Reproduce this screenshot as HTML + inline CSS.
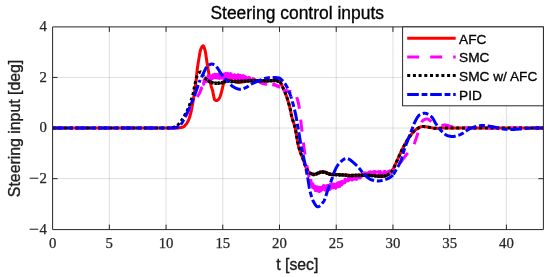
<!DOCTYPE html>
<html><head><meta charset="utf-8"><title>Steering control inputs</title>
<style>html,body{margin:0;padding:0;background:#fff;width:550px;height:277px;overflow:hidden}svg{display:block}</style>
</head><body>
<svg width="550" height="277" viewBox="0 0 550 277">
<rect width="550" height="277" fill="#fff"/>
<path d="M109.33,26.9V229.6M166.05,26.9V229.6M222.78,26.9V229.6M279.50,26.9V229.6M336.23,26.9V229.6M392.95,26.9V229.6M449.68,26.9V229.6M506.40,26.9V229.6" stroke="#262626" stroke-opacity="0.15" stroke-width="1" fill="none"/>
<path d="M52.6,178.67H543.4M52.6,128.05H543.4M52.6,77.43H543.4" stroke="#262626" stroke-opacity="0.15" stroke-width="1" fill="none"/>
<g fill="none" stroke-width="3" stroke-linejoin="round" clip-path="url(#c)">
<clipPath id="c"><rect x="52.6" y="26.9" width="490.79999999999995" height="202.7"/></clipPath>
<path d="M52.60,128.05 L52.83,128.05 L53.05,128.05 L53.28,128.05 L53.51,128.05 L53.73,128.05 L53.96,128.05 L54.19,128.05 L54.42,128.05 L54.64,128.05 L54.87,128.05 L55.10,128.05 L55.32,128.05 L55.55,128.05 L55.78,128.05 L56.00,128.05 L56.23,128.05 L56.46,128.05 L56.68,128.05 L56.91,128.05 L57.14,128.05 L57.36,128.05 L57.59,128.05 L57.82,128.05 L58.05,128.05 L58.27,128.05 L58.50,128.05 L58.73,128.05 L58.95,128.05 L59.18,128.05 L59.41,128.05 L59.63,128.05 L59.86,128.05 L60.09,128.05 L60.31,128.05 L60.54,128.05 L60.77,128.05 L61.00,128.05 L61.22,128.05 L61.45,128.05 L61.68,128.05 L61.90,128.05 L62.13,128.05 L62.36,128.05 L62.58,128.05 L62.81,128.05 L63.04,128.05 L63.26,128.05 L63.49,128.05 L63.72,128.05 L63.95,128.05 L64.17,128.05 L64.40,128.05 L64.63,128.05 L64.85,128.05 L65.08,128.05 L65.31,128.05 L65.53,128.05 L65.76,128.05 L65.99,128.05 L66.21,128.05 L66.44,128.05 L66.67,128.05 L66.89,128.05 L67.12,128.05 L67.35,128.05 L67.58,128.05 L67.80,128.05 L68.03,128.05 L68.26,128.05 L68.48,128.05 L68.71,128.05 L68.94,128.05 L69.16,128.05 L69.39,128.05 L69.62,128.05 L69.84,128.05 L70.07,128.05 L70.30,128.05 L70.53,128.05 L70.75,128.05 L70.98,128.05 L71.21,128.05 L71.43,128.05 L71.66,128.05 L71.89,128.05 L72.11,128.05 L72.34,128.05 L72.57,128.05 L72.79,128.05 L73.02,128.05 L73.25,128.05 L73.47,128.05 L73.70,128.05 L73.93,128.05 L74.16,128.05 L74.38,128.05 L74.61,128.05 L74.84,128.05 L75.06,128.05 L75.29,128.05 L75.52,128.05 L75.74,128.05 L75.97,128.05 L76.20,128.05 L76.42,128.05 L76.65,128.05 L76.88,128.05 L77.11,128.05 L77.33,128.05 L77.56,128.05 L77.79,128.05 L78.01,128.05 L78.24,128.05 L78.47,128.05 L78.69,128.05 L78.92,128.05 L79.15,128.05 L79.37,128.05 L79.60,128.05 L79.83,128.05 L80.05,128.05 L80.28,128.05 L80.51,128.05 L80.74,128.05 L80.96,128.05 L81.19,128.05 L81.42,128.05 L81.64,128.05 L81.87,128.05 L82.10,128.05 L82.32,128.05 L82.55,128.05 L82.78,128.05 L83.00,128.05 L83.23,128.05 L83.46,128.05 L83.69,128.05 L83.91,128.05 L84.14,128.05 L84.37,128.05 L84.59,128.05 L84.82,128.05 L85.05,128.05 L85.27,128.05 L85.50,128.05 L85.73,128.05 L85.95,128.05 L86.18,128.05 L86.41,128.05 L86.64,128.05 L86.86,128.05 L87.09,128.05 L87.32,128.05 L87.54,128.05 L87.77,128.05 L88.00,128.05 L88.22,128.05 L88.45,128.05 L88.68,128.05 L88.90,128.05 L89.13,128.05 L89.36,128.05 L89.58,128.05 L89.81,128.05 L90.04,128.05 L90.27,128.05 L90.49,128.05 L90.72,128.05 L90.95,128.05 L91.17,128.05 L91.40,128.05 L91.63,128.05 L91.85,128.05 L92.08,128.05 L92.31,128.05 L92.53,128.05 L92.76,128.05 L92.99,128.05 L93.22,128.05 L93.44,128.05 L93.67,128.05 L93.90,128.05 L94.12,128.05 L94.35,128.05 L94.58,128.05 L94.80,128.05 L95.03,128.05 L95.26,128.05 L95.48,128.05 L95.71,128.05 L95.94,128.05 L96.16,128.05 L96.39,128.05 L96.62,128.05 L96.85,128.05 L97.07,128.05 L97.30,128.05 L97.53,128.05 L97.75,128.05 L97.98,128.05 L98.21,128.05 L98.43,128.05 L98.66,128.05 L98.89,128.05 L99.11,128.05 L99.34,128.05 L99.57,128.05 L99.80,128.05 L100.02,128.05 L100.25,128.05 L100.48,128.05 L100.70,128.05 L100.93,128.05 L101.16,128.05 L101.38,128.05 L101.61,128.05 L101.84,128.05 L102.06,128.05 L102.29,128.05 L102.52,128.05 L102.74,128.05 L102.97,128.05 L103.20,128.05 L103.43,128.05 L103.65,128.05 L103.88,128.05 L104.11,128.05 L104.33,128.05 L104.56,128.05 L104.79,128.05 L105.01,128.05 L105.24,128.05 L105.47,128.05 L105.69,128.05 L105.92,128.05 L106.15,128.05 L106.38,128.05 L106.60,128.05 L106.83,128.05 L107.06,128.05 L107.28,128.05 L107.51,128.05 L107.74,128.05 L107.96,128.05 L108.19,128.05 L108.42,128.05 L108.64,128.05 L108.87,128.05 L109.10,128.05 L109.33,128.05 L109.55,128.05 L109.78,128.05 L110.01,128.05 L110.23,128.05 L110.46,128.05 L110.69,128.05 L110.91,128.05 L111.14,128.05 L111.37,128.05 L111.59,128.05 L111.82,128.05 L112.05,128.05 L112.27,128.05 L112.50,128.05 L112.73,128.05 L112.96,128.05 L113.18,128.05 L113.41,128.05 L113.64,128.05 L113.86,128.05 L114.09,128.05 L114.32,128.05 L114.54,128.05 L114.77,128.05 L115.00,128.05 L115.22,128.05 L115.45,128.05 L115.68,128.05 L115.91,128.05 L116.13,128.05 L116.36,128.05 L116.59,128.05 L116.81,128.05 L117.04,128.05 L117.27,128.05 L117.49,128.05 L117.72,128.05 L117.95,128.05 L118.17,128.05 L118.40,128.05 L118.63,128.05 L118.85,128.05 L119.08,128.05 L119.31,128.05 L119.54,128.05 L119.76,128.05 L119.99,128.05 L120.22,128.05 L120.44,128.05 L120.67,128.05 L120.90,128.05 L121.12,128.05 L121.35,128.05 L121.58,128.05 L121.80,128.05 L122.03,128.05 L122.26,128.05 L122.49,128.05 L122.71,128.05 L122.94,128.05 L123.17,128.05 L123.39,128.05 L123.62,128.05 L123.85,128.05 L124.07,128.05 L124.30,128.05 L124.53,128.05 L124.75,128.05 L124.98,128.05 L125.21,128.05 L125.43,128.05 L125.66,128.05 L125.89,128.05 L126.12,128.05 L126.34,128.05 L126.57,128.05 L126.80,128.05 L127.02,128.05 L127.25,128.05 L127.48,128.05 L127.70,128.05 L127.93,128.05 L128.16,128.05 L128.38,128.05 L128.61,128.05 L128.84,128.05 L129.07,128.05 L129.29,128.05 L129.52,128.05 L129.75,128.05 L129.97,128.05 L130.20,128.05 L130.43,128.05 L130.65,128.05 L130.88,128.05 L131.11,128.05 L131.33,128.05 L131.56,128.05 L131.79,128.05 L132.02,128.05 L132.24,128.05 L132.47,128.05 L132.70,128.05 L132.92,128.05 L133.15,128.05 L133.38,128.05 L133.60,128.05 L133.83,128.05 L134.06,128.05 L134.28,128.05 L134.51,128.05 L134.74,128.05 L134.96,128.05 L135.19,128.05 L135.42,128.05 L135.65,128.05 L135.87,128.05 L136.10,128.05 L136.33,128.05 L136.55,128.05 L136.78,128.05 L137.01,128.05 L137.23,128.05 L137.46,128.05 L137.69,128.05 L137.91,128.05 L138.14,128.05 L138.37,128.05 L138.60,128.05 L138.82,128.05 L139.05,128.05 L139.28,128.05 L139.50,128.05 L139.73,128.05 L139.96,128.05 L140.18,128.05 L140.41,128.05 L140.64,128.05 L140.86,128.05 L141.09,128.05 L141.32,128.05 L141.54,128.05 L141.77,128.05 L142.00,128.05 L142.23,128.05 L142.45,128.05 L142.68,128.05 L142.91,128.05 L143.13,128.05 L143.36,128.05 L143.59,128.05 L143.81,128.05 L144.04,128.05 L144.27,128.05 L144.49,128.05 L144.72,128.05 L144.95,128.05 L145.18,128.05 L145.40,128.05 L145.63,128.05 L145.86,128.05 L146.08,128.05 L146.31,128.05 L146.54,128.05 L146.76,128.05 L146.99,128.05 L147.22,128.05 L147.44,128.05 L147.67,128.05 L147.90,128.05 L148.12,128.05 L148.35,128.05 L148.58,128.05 L148.81,128.05 L149.03,128.05 L149.26,128.05 L149.49,128.05 L149.71,128.05 L149.94,128.05 L150.17,128.05 L150.39,128.05 L150.62,128.05 L150.85,128.05 L151.07,128.05 L151.30,128.05 L151.53,128.05 L151.76,128.05 L151.98,128.05 L152.21,128.05 L152.44,128.05 L152.66,128.05 L152.89,128.05 L153.12,128.05 L153.34,128.05 L153.57,128.05 L153.80,128.05 L154.02,128.05 L154.25,128.05 L154.48,128.05 L154.71,128.05 L154.93,128.05 L155.16,128.05 L155.39,128.05 L155.61,128.05 L155.84,128.05 L156.07,128.05 L156.29,128.05 L156.52,128.05 L156.75,128.05 L156.97,128.05 L157.20,128.05 L157.43,128.05 L157.65,128.05 L157.88,128.05 L158.11,128.05 L158.34,128.05 L158.56,128.05 L158.79,128.05 L159.02,128.05 L159.24,128.05 L159.47,128.05 L159.70,128.05 L159.92,128.05 L160.15,128.05 L160.38,128.05 L160.60,128.05 L160.83,128.05 L161.06,128.05 L161.29,128.05 L161.51,128.05 L161.74,128.05 L161.97,128.05 L162.19,128.05 L162.42,128.05 L162.65,128.05 L162.87,128.05 L163.10,128.05 L163.33,128.05 L163.55,128.05 L163.78,128.05 L164.01,128.05 L164.23,128.05 L164.46,128.05 L164.69,128.05 L164.92,128.05 L165.14,128.05 L165.37,128.05 L165.60,128.05 L165.82,128.05 L166.05,128.05 L166.28,128.05 L166.50,128.05 L166.73,128.05 L166.96,128.05 L167.18,128.05 L167.41,128.05 L167.64,128.05 L167.87,128.05 L168.09,128.05 L168.32,128.05 L168.55,128.05 L168.77,128.05 L169.00,128.05 L169.23,128.05 L169.45,128.05 L169.68,128.05 L169.91,128.05 L170.13,128.05 L170.36,128.05 L170.59,128.05 L170.81,128.05 L171.04,128.05 L171.27,128.05 L171.50,128.05 L171.72,128.05 L171.95,128.05 L172.18,128.05 L172.40,128.05 L172.63,128.05 L172.86,128.05 L173.08,128.05 L173.31,128.05 L173.54,128.05 L173.76,128.05 L173.99,128.05 L174.22,128.05 L174.45,128.05 L174.67,128.05 L174.90,128.05 L175.13,128.05 L175.35,128.05 L175.58,128.05 L175.81,128.05 L176.03,128.05 L176.26,128.05 L176.49,128.05 L176.71,128.05 L176.94,128.04 L177.17,128.03 L177.40,128.02 L177.62,128.01 L177.85,127.99 L178.08,127.97 L178.30,127.95 L178.53,127.93 L178.76,127.91 L178.98,127.88 L179.21,127.85 L179.44,127.82 L179.66,127.79 L179.89,127.75 L180.12,127.72 L180.34,127.68 L180.57,127.64 L180.80,127.60 L181.03,127.55 L181.25,127.51 L181.48,127.46 L181.71,127.41 L181.93,127.36 L182.16,127.30 L182.39,127.25 L182.61,127.19 L182.84,127.13 L183.07,127.05 L183.29,126.94 L183.52,126.81 L183.75,126.66 L183.98,126.49 L184.20,126.30 L184.43,126.09 L184.66,125.87 L184.88,125.64 L185.11,125.39 L185.34,125.14 L185.56,124.87 L185.79,124.60 L186.02,124.32 L186.24,124.03 L186.47,123.75 L186.70,123.44 L186.92,123.11 L187.15,122.75 L187.38,122.36 L187.61,121.94 L187.83,121.50 L188.06,121.04 L188.29,120.55 L188.51,120.04 L188.74,119.51 L188.97,118.97 L189.19,118.39 L189.42,117.77 L189.65,117.10 L189.87,116.37 L190.10,115.60 L190.33,114.79 L190.56,113.94 L190.78,113.06 L191.01,112.14 L191.24,111.14 L191.46,110.05 L191.69,108.91 L191.92,107.73 L192.14,106.54 L192.37,105.32 L192.60,104.07 L192.82,102.78 L193.05,101.46 L193.28,100.09 L193.50,98.69 L193.73,97.26 L193.96,95.81 L194.19,94.34 L194.41,92.84 L194.64,91.31 L194.87,89.74 L195.09,88.14 L195.32,86.48 L195.55,84.79 L195.77,83.03 L196.00,81.23 L196.23,79.25 L196.45,77.08 L196.68,74.81 L196.91,72.57 L197.14,70.45 L197.36,68.57 L197.59,66.90 L197.82,65.34 L198.04,63.85 L198.27,62.44 L198.50,61.08 L198.72,59.75 L198.95,58.45 L199.18,57.10 L199.40,55.71 L199.63,54.32 L199.86,52.99 L200.09,51.78 L200.31,50.73 L200.54,49.90 L200.77,49.31 L200.99,48.78 L201.22,48.26 L201.45,47.78 L201.67,47.33 L201.90,46.93 L202.13,46.58 L202.35,46.28 L202.58,46.05 L202.81,45.89 L203.03,45.80 L203.26,45.82 L203.49,46.00 L203.72,46.33 L203.94,46.81 L204.17,47.40 L204.40,48.07 L204.62,48.82 L204.85,49.62 L205.08,50.44 L205.30,51.31 L205.53,52.46 L205.76,53.85 L205.98,55.41 L206.21,57.05 L206.44,58.69 L206.67,60.25 L206.89,61.68 L207.12,63.09 L207.35,64.49 L207.57,65.88 L207.80,67.26 L208.03,68.64 L208.25,70.00 L208.48,71.35 L208.71,72.68 L208.93,73.99 L209.16,75.30 L209.39,76.63 L209.61,77.98 L209.84,79.32 L210.07,80.64 L210.30,81.92 L210.52,83.13 L210.75,84.27 L210.98,85.31 L211.20,86.22 L211.43,87.01 L211.66,87.71 L211.88,88.36 L212.11,89.00 L212.34,89.69 L212.56,90.46 L212.79,91.35 L213.02,92.54 L213.25,93.92 L213.47,95.15 L213.70,96.22 L213.93,97.28 L214.15,98.24 L214.38,99.00 L214.61,99.45 L214.83,99.71 L215.06,99.94 L215.29,100.14 L215.51,100.31 L215.74,100.44 L215.97,100.54 L216.19,100.58 L216.42,100.58 L216.65,100.55 L216.88,100.48 L217.10,100.39 L217.33,100.28 L217.56,100.16 L217.78,100.03 L218.01,99.88 L218.24,99.68 L218.46,99.44 L218.69,99.15 L218.92,98.81 L219.14,98.44 L219.37,98.03 L219.60,97.60 L219.83,97.14 L220.05,96.67 L220.28,96.12 L220.51,95.46 L220.73,94.71 L220.96,93.91 L221.19,93.06 L221.41,92.20 L221.64,91.35 L221.87,90.48 L222.09,89.57 L222.32,88.62 L222.55,87.66 L222.78,86.71 L223.00,85.78 L223.23,84.82 L223.46,83.81 L223.68,82.80 L223.91,81.86 L224.14,81.06 L224.36,80.47 L224.59,80.00 L224.82,79.55 L225.04,79.12 L225.27,78.72 L225.50,78.36 L225.72,78.05 L225.95,77.79 L226.18,77.59 L226.41,77.47 L226.63,77.43 L226.86,77.44 L227.09,77.46 L227.31,77.49 L227.54,77.53 L227.77,77.58 L227.99,77.64 L228.22,77.70 L228.45,77.77 L228.67,77.85 L228.90,77.93 L229.13,78.02 L229.36,78.10 L229.58,78.19 L229.81,78.30 L230.04,78.43 L230.26,78.60 L230.49,78.79 L230.72,79.00 L230.94,79.22 L231.17,79.45 L231.40,79.68 L231.62,79.91 L231.85,80.14 L232.08,80.35 L232.30,80.54 L232.53,80.71 L232.76,80.86 L232.99,80.97 L233.21,81.07 L233.44,81.16 L233.67,81.26 L233.89,81.35 L234.12,81.44 L234.35,81.53 L234.57,81.61 L234.80,81.69 L235.03,81.77 L235.25,81.85 L235.48,81.93 L235.71,82.00 L235.94,82.06 L236.16,82.13 L236.39,82.19 L236.62,82.24 L236.84,82.29 L237.07,82.34 L237.30,82.38 L237.52,82.41 L237.75,82.44 L237.98,82.46 L238.20,82.48 L238.43,82.49 L238.66,82.49 L238.88,82.49 L239.11,82.48 L239.34,82.46 L239.57,82.44 L239.79,82.42 L240.02,82.39 L240.25,82.36 L240.47,82.32 L240.70,82.28 L240.93,82.24 L241.15,82.20 L241.38,82.15 L241.61,82.11 L241.83,82.06 L242.06,82.01 L242.29,81.97 L242.52,81.92 L242.74,81.88 L242.97,81.84 L243.20,81.80 L243.42,81.76 L243.65,81.73 L243.88,81.70 L244.10,81.67 L244.33,81.64 L244.56,81.61 L244.78,81.57 L245.01,81.54 L245.24,81.50 L245.47,81.47 L245.69,81.44 L245.92,81.40 L246.15,81.37 L246.37,81.33 L246.60,81.29 L246.83,81.26 L247.05,81.22 L247.28,81.19 L247.51,81.15 L247.73,81.12 L247.96,81.08 L248.19,81.05 L248.41,81.02 L248.64,80.98 L248.87,80.95 L249.10,80.92 L249.32,80.89 L249.55,80.86 L249.78,80.82 L250.00,80.80 L250.23,80.77 L250.46,80.74 L250.68,80.71 L250.91,80.69 L251.14,80.66 L251.36,80.64 L251.59,80.62 L251.82,80.60 L252.05,80.58 L252.27,80.56 L252.50,80.54 L252.73,80.53 L252.95,80.51 L253.18,80.50 L253.41,80.49 L253.63,80.48 L253.86,80.48 L254.09,80.47 L254.31,80.47 L254.54,80.47 L254.77,80.47 L254.99,80.47 L255.22,80.48 L255.45,80.49 L255.68,80.51 L255.90,80.52 L256.13,80.54 L256.36,80.56 L256.58,80.57 L256.81,80.59 L257.04,80.61 L257.26,80.63 L257.49,80.65 L257.72,80.67 L257.94,80.68 L258.17,80.69 L258.40,80.70 L258.63,80.71 L258.85,80.72 L259.08,80.72 L259.31,80.72 L259.53,80.72 L259.76,80.72 L259.99,80.72 L260.21,80.72 L260.44,80.71 L260.67,80.71 L260.89,80.71 L261.12,80.71 L261.35,80.70 L261.57,80.70 L261.80,80.70 L262.03,80.69 L262.26,80.69 L262.48,80.69 L262.71,80.68 L262.94,80.68 L263.16,80.67 L263.39,80.67 L263.62,80.66 L263.84,80.66 L264.07,80.65 L264.30,80.65 L264.52,80.64 L264.75,80.64 L264.98,80.63 L265.21,80.62 L265.43,80.62 L265.66,80.61 L265.89,80.61 L266.11,80.60 L266.34,80.60 L266.57,80.59 L266.79,80.58 L267.02,80.58 L267.25,80.57 L267.47,80.57 L267.70,80.56 L267.93,80.55 L268.16,80.55 L268.38,80.54 L268.61,80.54 L268.84,80.53 L269.06,80.53 L269.29,80.52 L269.52,80.52 L269.74,80.51 L269.97,80.51 L270.20,80.50 L270.42,80.50 L270.65,80.50 L270.88,80.49 L271.10,80.49 L271.33,80.49 L271.56,80.48 L271.79,80.48 L272.01,80.48 L272.24,80.47 L272.47,80.47 L272.69,80.47 L272.92,80.47 L273.15,80.47 L273.37,80.47 L273.60,80.47 L273.83,80.47 L274.05,80.47 L274.28,80.47 L274.51,80.48 L274.74,80.49 L274.96,80.50 L275.19,80.51 L275.42,80.52 L275.64,80.54 L275.87,80.56 L276.10,80.58 L276.32,80.60 L276.55,80.63 L276.78,80.65 L277.00,80.68 L277.23,80.72 L277.46,80.75 L277.68,80.79 L277.91,80.83 L278.14,80.88 L278.37,80.92 L278.59,80.97 L278.82,81.02 L279.05,81.08 L279.27,81.13 L279.50,81.20 L279.73,81.28 L279.95,81.48 L280.18,81.79 L280.41,82.20 L280.63,82.68 L280.86,83.20 L281.09,83.74 L281.32,84.28 L281.54,84.79 L281.77,85.25 L282.00,85.71 L282.22,86.18 L282.45,86.65 L282.68,87.12 L282.90,87.59 L283.13,88.08 L283.36,88.56 L283.58,89.06 L283.81,89.56 L284.04,90.07 L284.26,90.59 L284.49,91.12 L284.72,91.66 L284.95,92.21 L285.17,92.77 L285.40,93.34 L285.63,93.93 L285.85,94.53 L286.08,95.15 L286.31,95.78 L286.53,96.41 L286.76,97.07 L286.99,97.73 L287.21,98.41 L287.44,99.10 L287.67,99.81 L287.90,100.53 L288.12,101.27 L288.35,102.03 L288.58,102.81 L288.80,103.61 L289.03,104.43 L289.26,105.27 L289.48,106.14 L289.71,107.02 L289.94,107.94 L290.16,108.88 L290.39,109.84 L290.62,110.87 L290.85,112.09 L291.07,113.39 L291.30,114.61 L291.53,115.63 L291.75,116.55 L291.98,117.41 L292.21,118.23 L292.43,119.00 L292.66,119.73 L292.89,120.44 L293.11,121.14 L293.34,121.83 L293.57,122.51 L293.79,123.21 L294.02,123.92 L294.25,124.66 L294.48,125.44 L294.70,126.25 L294.93,127.12 L295.16,128.05 L295.38,129.07 L295.61,130.19 L295.84,131.39 L296.06,132.66 L296.29,133.97 L296.52,135.32 L296.74,136.69 L296.97,138.05 L297.20,139.40 L297.43,140.71 L297.65,141.97 L297.88,143.16 L298.11,144.26 L298.33,145.26 L298.56,146.18 L298.79,147.04 L299.01,147.86 L299.24,148.65 L299.47,149.40 L299.69,150.12 L299.92,150.83 L300.15,151.51 L300.37,152.18 L300.60,152.82 L300.83,153.44 L301.06,154.05 L301.28,154.64 L301.51,155.23 L301.74,155.80 L301.96,156.38 L302.19,156.95 L302.42,157.52 L302.64,158.10 L302.87,158.68 L303.10,159.28 L303.32,159.88 L303.55,160.51 L303.78,161.16 L304.01,161.84 L304.23,162.53 L304.46,163.22 L304.69,163.92 L304.91,164.60 L305.14,165.26 L305.37,165.89 L305.59,166.49 L305.82,167.04 L306.05,167.53 L306.27,168.00 L306.50,168.46 L306.73,168.91 L306.95,169.34 L307.18,169.77 L307.41,170.18 L307.64,170.57 L307.86,170.94 L308.09,171.29 L308.32,171.61 L308.54,171.91 L308.77,172.17 L309.00,172.40 L309.22,172.60 L309.45,172.76 L309.68,172.91 L309.90,173.04 L310.13,173.16 L310.36,173.26 L310.59,173.35 L310.81,173.44 L311.04,173.53 L311.27,173.62 L311.49,173.71 L311.72,173.80 L311.95,173.88 L312.17,173.96 L312.40,174.04 L312.63,174.11 L312.85,174.17 L313.08,174.23 L313.31,174.28 L313.54,174.31 L313.76,174.34 L313.99,174.36 L314.22,174.37 L314.44,174.36 L314.67,174.33 L314.90,174.29 L315.12,174.23 L315.35,174.16 L315.58,174.08 L315.80,173.99 L316.03,173.89 L316.26,173.79 L316.48,173.69 L316.71,173.58 L316.94,173.48 L317.17,173.38 L317.39,173.28 L317.62,173.19 L317.85,173.10 L318.07,173.02 L318.30,172.93 L318.53,172.83 L318.75,172.73 L318.98,172.62 L319.21,172.52 L319.43,172.41 L319.66,172.31 L319.89,172.21 L320.12,172.13 L320.34,172.04 L320.57,171.97 L320.80,171.92 L321.02,171.87 L321.25,171.85 L321.48,171.84 L321.70,171.84 L321.93,171.84 L322.16,171.85 L322.38,171.86 L322.61,171.87 L322.84,171.88 L323.06,171.89 L323.29,171.91 L323.52,171.93 L323.75,171.95 L323.97,171.97 L324.20,171.99 L324.43,172.01 L324.65,172.04 L324.88,172.06 L325.11,172.09 L325.33,172.13 L325.56,172.18 L325.79,172.26 L326.01,172.35 L326.24,172.45 L326.47,172.56 L326.70,172.67 L326.92,172.79 L327.15,172.91 L327.38,173.04 L327.60,173.15 L327.83,173.27 L328.06,173.37 L328.28,173.46 L328.51,173.54 L328.74,173.61 L328.96,173.66 L329.19,173.72 L329.42,173.77 L329.64,173.82 L329.87,173.87 L330.10,173.91 L330.33,173.96 L330.55,174.00 L330.78,174.04 L331.01,174.08 L331.23,174.12 L331.46,174.16 L331.69,174.19 L331.91,174.22 L332.14,174.25 L332.37,174.28 L332.59,174.31 L332.82,174.33 L333.05,174.35 L333.28,174.37 L333.50,174.38 L333.73,174.40 L333.96,174.41 L334.18,174.43 L334.41,174.44 L334.64,174.45 L334.86,174.46 L335.09,174.48 L335.32,174.49 L335.54,174.50 L335.77,174.51 L336.00,174.52 L336.23,174.53 L336.45,174.53 L336.68,174.54 L336.91,174.55 L337.13,174.56 L337.36,174.57 L337.59,174.58 L337.81,174.59 L338.04,174.59 L338.27,174.60 L338.49,174.61 L338.72,174.62 L338.95,174.63 L339.17,174.64 L339.40,174.65 L339.63,174.65 L339.86,174.66 L340.08,174.67 L340.31,174.68 L340.54,174.68 L340.76,174.69 L340.99,174.70 L341.22,174.70 L341.44,174.71 L341.67,174.72 L341.90,174.72 L342.12,174.73 L342.35,174.74 L342.58,174.74 L342.81,174.75 L343.03,174.76 L343.26,174.77 L343.49,174.78 L343.71,174.78 L343.94,174.79 L344.17,174.80 L344.39,174.81 L344.62,174.82 L344.85,174.83 L345.07,174.84 L345.30,174.85 L345.53,174.87 L345.75,174.88 L345.98,174.90 L346.21,174.92 L346.44,174.95 L346.66,174.98 L346.89,175.01 L347.12,175.04 L347.34,175.08 L347.57,175.11 L347.80,175.15 L348.02,175.18 L348.25,175.22 L348.48,175.25 L348.70,175.28 L348.93,175.31 L349.16,175.33 L349.39,175.35 L349.61,175.37 L349.84,175.38 L350.07,175.38 L350.29,175.38 L350.52,175.38 L350.75,175.38 L350.97,175.37 L351.20,175.37 L351.43,175.36 L351.65,175.36 L351.88,175.35 L352.11,175.35 L352.33,175.34 L352.56,175.33 L352.79,175.32 L353.02,175.32 L353.24,175.31 L353.47,175.30 L353.70,175.29 L353.92,175.28 L354.15,175.27 L354.38,175.26 L354.60,175.25 L354.83,175.24 L355.06,175.23 L355.28,175.22 L355.51,175.21 L355.74,175.20 L355.97,175.19 L356.19,175.18 L356.42,175.17 L356.65,175.16 L356.87,175.15 L357.10,175.14 L357.33,175.13 L357.55,175.12 L357.78,175.11 L358.01,175.11 L358.23,175.10 L358.46,175.09 L358.69,175.08 L358.92,175.07 L359.14,175.06 L359.37,175.05 L359.60,175.03 L359.82,175.02 L360.05,175.01 L360.28,175.00 L360.50,174.99 L360.73,174.98 L360.96,174.97 L361.18,174.96 L361.41,174.95 L361.64,174.94 L361.86,174.93 L362.09,174.92 L362.32,174.92 L362.55,174.91 L362.77,174.90 L363.00,174.90 L363.23,174.89 L363.45,174.89 L363.68,174.88 L363.91,174.88 L364.13,174.88 L364.36,174.87 L364.59,174.87 L364.81,174.87 L365.04,174.88 L365.27,174.88 L365.50,174.89 L365.72,174.89 L365.95,174.90 L366.18,174.91 L366.40,174.92 L366.63,174.93 L366.86,174.94 L367.08,174.95 L367.31,174.97 L367.54,174.98 L367.76,175.00 L367.99,175.01 L368.22,175.03 L368.44,175.05 L368.67,175.07 L368.90,175.08 L369.13,175.10 L369.35,175.12 L369.58,175.14 L369.81,175.16 L370.03,175.18 L370.26,175.20 L370.49,175.22 L370.71,175.24 L370.94,175.26 L371.17,175.28 L371.39,175.29 L371.62,175.31 L371.85,175.33 L372.08,175.35 L372.30,175.36 L372.53,175.38 L372.76,175.40 L372.98,175.41 L373.21,175.43 L373.44,175.45 L373.66,175.47 L373.89,175.49 L374.12,175.52 L374.34,175.54 L374.57,175.56 L374.80,175.58 L375.02,175.61 L375.25,175.63 L375.48,175.65 L375.71,175.67 L375.93,175.70 L376.16,175.72 L376.39,175.74 L376.61,175.76 L376.84,175.78 L377.07,175.79 L377.29,175.81 L377.52,175.83 L377.75,175.84 L377.97,175.85 L378.20,175.86 L378.43,175.87 L378.66,175.88 L378.88,175.88 L379.11,175.89 L379.34,175.89 L379.56,175.89 L379.79,175.89 L380.02,175.89 L380.24,175.89 L380.47,175.89 L380.70,175.89 L380.92,175.89 L381.15,175.89 L381.38,175.89 L381.61,175.89 L381.83,175.89 L382.06,175.89 L382.29,175.89 L382.51,175.89 L382.74,175.89 L382.97,175.89 L383.19,175.89 L383.42,175.89 L383.65,175.89 L383.87,175.89 L384.10,175.88 L384.33,175.86 L384.55,175.82 L384.78,175.78 L385.01,175.72 L385.24,175.65 L385.46,175.58 L385.69,175.49 L385.92,175.40 L386.14,175.30 L386.37,175.19 L386.60,175.08 L386.82,174.97 L387.05,174.85 L387.28,174.73 L387.50,174.61 L387.73,174.49 L387.96,174.37 L388.19,174.24 L388.41,174.10 L388.64,173.96 L388.87,173.80 L389.09,173.63 L389.32,173.45 L389.55,173.26 L389.77,173.06 L390.00,172.85 L390.23,172.64 L390.45,172.41 L390.68,172.17 L390.91,171.93 L391.13,171.68 L391.36,171.42 L391.59,171.16 L391.82,170.88 L392.04,170.60 L392.27,170.32 L392.50,170.01 L392.72,169.68 L392.95,169.31 L393.18,168.93 L393.40,168.51 L393.63,168.08 L393.86,167.63 L394.08,167.17 L394.31,166.69 L394.54,166.20 L394.77,165.71 L394.99,165.20 L395.22,164.70 L395.45,164.19 L395.67,163.68 L395.90,163.18 L396.13,162.68 L396.35,162.19 L396.58,161.71 L396.81,161.24 L397.03,160.75 L397.26,160.26 L397.49,159.76 L397.71,159.26 L397.94,158.75 L398.17,158.24 L398.40,157.73 L398.62,157.21 L398.85,156.69 L399.08,156.17 L399.30,155.66 L399.53,155.14 L399.76,154.63 L399.98,154.11 L400.21,153.60 L400.44,153.10 L400.66,152.60 L400.89,152.11 L401.12,151.62 L401.35,151.14 L401.57,150.67 L401.80,150.20 L402.03,149.75 L402.25,149.31 L402.48,148.87 L402.71,148.44 L402.93,148.01 L403.16,147.58 L403.39,147.15 L403.61,146.72 L403.84,146.29 L404.07,145.87 L404.30,145.45 L404.52,145.03 L404.75,144.61 L404.98,144.20 L405.20,143.79 L405.43,143.39 L405.66,142.98 L405.88,142.58 L406.11,142.19 L406.34,141.80 L406.56,141.41 L406.79,141.03 L407.02,140.65 L407.24,140.28 L407.47,139.91 L407.70,139.55 L407.93,139.20 L408.15,138.84 L408.38,138.50 L408.61,138.16 L408.83,137.82 L409.06,137.50 L409.29,137.18 L409.51,136.86 L409.74,136.55 L409.97,136.25 L410.19,135.95 L410.42,135.65 L410.65,135.35 L410.88,135.05 L411.10,134.75 L411.33,134.45 L411.56,134.16 L411.78,133.87 L412.01,133.58 L412.24,133.29 L412.46,133.01 L412.69,132.74 L412.92,132.46 L413.14,132.20 L413.37,131.94 L413.60,131.68 L413.82,131.43 L414.05,131.19 L414.28,130.96 L414.51,130.73 L414.73,130.51 L414.96,130.30 L415.19,130.10 L415.41,129.91 L415.64,129.73 L415.87,129.56 L416.09,129.41 L416.32,129.26 L416.55,129.12 L416.77,128.99 L417.00,128.85 L417.23,128.71 L417.46,128.58 L417.68,128.44 L417.91,128.31 L418.14,128.18 L418.36,128.05 L418.59,127.93 L418.82,127.81 L419.04,127.69 L419.27,127.57 L419.50,127.46 L419.72,127.35 L419.95,127.25 L420.18,127.15 L420.40,127.06 L420.63,126.97 L420.86,126.90 L421.09,126.82 L421.31,126.76 L421.54,126.70 L421.77,126.65 L421.99,126.61 L422.22,126.58 L422.45,126.55 L422.67,126.54 L422.90,126.53 L423.13,126.53 L423.35,126.54 L423.58,126.55 L423.81,126.57 L424.04,126.59 L424.26,126.61 L424.49,126.63 L424.72,126.66 L424.94,126.68 L425.17,126.71 L425.40,126.73 L425.62,126.76 L425.85,126.78 L426.08,126.81 L426.30,126.84 L426.53,126.87 L426.76,126.90 L426.99,126.93 L427.21,126.96 L427.44,127.00 L427.67,127.04 L427.89,127.08 L428.12,127.12 L428.35,127.16 L428.57,127.20 L428.80,127.25 L429.03,127.29 L429.25,127.34 L429.48,127.38 L429.71,127.43 L429.93,127.47 L430.16,127.52 L430.39,127.56 L430.62,127.61 L430.84,127.65 L431.07,127.70 L431.30,127.74 L431.52,127.79 L431.75,127.83 L431.98,127.87 L432.20,127.91 L432.43,127.95 L432.66,127.99 L432.88,128.02 L433.11,128.06 L433.34,128.09 L433.57,128.12 L433.79,128.15 L434.02,128.18 L434.25,128.20 L434.47,128.23 L434.70,128.25 L434.93,128.26 L435.15,128.28 L435.38,128.29 L435.61,128.30 L435.83,128.30 L436.06,128.30 L436.29,128.30 L436.51,128.30 L436.74,128.30 L436.97,128.29 L437.20,128.29 L437.42,128.28 L437.65,128.28 L437.88,128.27 L438.10,128.26 L438.33,128.25 L438.56,128.24 L438.78,128.23 L439.01,128.22 L439.24,128.21 L439.46,128.20 L439.69,128.19 L439.92,128.18 L440.15,128.17 L440.37,128.16 L440.60,128.15 L440.83,128.14 L441.05,128.13 L441.28,128.12 L441.51,128.11 L441.73,128.10 L441.96,128.09 L442.19,128.08 L442.41,128.08 L442.64,128.07 L442.87,128.06 L443.09,128.06 L443.32,128.06 L443.55,128.05 L443.78,128.05 L444.00,128.05 L444.23,128.05 L444.46,128.05 L444.68,128.05 L444.91,128.05 L445.14,128.05 L445.36,128.05 L445.59,128.05 L445.82,128.05 L446.04,128.05 L446.27,128.05 L446.50,128.05 L446.73,128.05 L446.95,128.05 L447.18,128.05 L447.41,128.05 L447.63,128.05 L447.86,128.05 L448.09,128.05 L448.31,128.05 L448.54,128.05 L448.77,128.05 L448.99,128.05 L449.22,128.05 L449.45,128.05 L449.68,128.05 L449.90,128.05 L450.13,128.05 L450.36,128.05 L450.58,128.05 L450.81,128.05 L451.04,128.05 L451.26,128.05 L451.49,128.05 L451.72,128.05 L451.94,128.05 L452.17,128.05 L452.40,128.05 L452.62,128.05 L452.85,128.05 L453.08,128.05 L453.31,128.05 L453.53,128.05 L453.76,128.05 L453.99,128.05 L454.21,128.05 L454.44,128.05 L454.67,128.05 L454.89,128.05 L455.12,128.05 L455.35,128.05 L455.57,128.05 L455.80,128.05 L456.03,128.05 L456.26,128.05 L456.48,128.05 L456.71,128.05 L456.94,128.05 L457.16,128.05 L457.39,128.05 L457.62,128.05 L457.84,128.05 L458.07,128.05 L458.30,128.05 L458.52,128.05 L458.75,128.05 L458.98,128.05 L459.20,128.05 L459.43,128.05 L459.66,128.05 L459.89,128.05 L460.11,128.05 L460.34,128.05 L460.57,128.05 L460.79,128.05 L461.02,128.05 L461.25,128.05 L461.47,128.05 L461.70,128.05 L461.93,128.05 L462.15,128.05 L462.38,128.05 L462.61,128.05 L462.84,128.05 L463.06,128.05 L463.29,128.05 L463.52,128.05 L463.74,128.05 L463.97,128.05 L464.20,128.05 L464.42,128.05 L464.65,128.05 L464.88,128.05 L465.10,128.05 L465.33,128.05 L465.56,128.05 L465.78,128.05 L466.01,128.05 L466.24,128.05 L466.47,128.05 L466.69,128.05 L466.92,128.05 L467.15,128.05 L467.37,128.05 L467.60,128.05 L467.83,128.05 L468.05,128.05 L468.28,128.05 L468.51,128.05 L468.73,128.05 L468.96,128.05 L469.19,128.05 L469.42,128.05 L469.64,128.05 L469.87,128.05 L470.10,128.05 L470.32,128.05 L470.55,128.05 L470.78,128.05 L471.00,128.05 L471.23,128.05 L471.46,128.05 L471.68,128.05 L471.91,128.05 L472.14,128.05 L472.37,128.05 L472.59,128.05 L472.82,128.05 L473.05,128.05 L473.27,128.05 L473.50,128.05 L473.73,128.05 L473.95,128.05 L474.18,128.05 L474.41,128.05 L474.63,128.05 L474.86,128.05 L475.09,128.05 L475.31,128.05 L475.54,128.05 L475.77,128.05 L476.00,128.05 L476.22,128.05 L476.45,128.05 L476.68,128.05 L476.90,128.05 L477.13,128.05 L477.36,128.05 L477.58,128.05 L477.81,128.05 L478.04,128.05 L478.26,128.05 L478.49,128.05 L478.72,128.05 L478.95,128.05 L479.17,128.05 L479.40,128.05 L479.63,128.05 L479.85,128.05 L480.08,128.05 L480.31,128.05 L480.53,128.05 L480.76,128.05 L480.99,128.05 L481.21,128.05 L481.44,128.05 L481.67,128.05 L481.89,128.05 L482.12,128.05 L482.35,128.05 L482.58,128.05 L482.80,128.05 L483.03,128.05 L483.26,128.05 L483.48,128.05 L483.71,128.05 L483.94,128.05 L484.16,128.05 L484.39,128.05 L484.62,128.05 L484.84,128.05 L485.07,128.05 L485.30,128.05 L485.53,128.05 L485.75,128.05 L485.98,128.05 L486.21,128.05 L486.43,128.05 L486.66,128.05 L486.89,128.05 L487.11,128.05 L487.34,128.05 L487.57,128.05 L487.79,128.05 L488.02,128.05 L488.25,128.05 L488.47,128.05 L488.70,128.05 L488.93,128.05 L489.16,128.05 L489.38,128.05 L489.61,128.05 L489.84,128.05 L490.06,128.05 L490.29,128.05 L490.52,128.05 L490.74,128.05 L490.97,128.05 L491.20,128.05 L491.42,128.05 L491.65,128.05 L491.88,128.05 L492.11,128.05 L492.33,128.05 L492.56,128.05 L492.79,128.05 L493.01,128.05 L493.24,128.05 L493.47,128.05 L493.69,128.05 L493.92,128.05 L494.15,128.05 L494.37,128.05 L494.60,128.05 L494.83,128.05 L495.06,128.05 L495.28,128.05 L495.51,128.05 L495.74,128.05 L495.96,128.05 L496.19,128.05 L496.42,128.05 L496.64,128.05 L496.87,128.05 L497.10,128.05 L497.32,128.05 L497.55,128.05 L497.78,128.05 L498.00,128.05 L498.23,128.05 L498.46,128.05 L498.69,128.05 L498.91,128.05 L499.14,128.05 L499.37,128.05 L499.59,128.05 L499.82,128.05 L500.05,128.05 L500.27,128.05 L500.50,128.05 L500.73,128.05 L500.95,128.05 L501.18,128.05 L501.41,128.05 L501.64,128.05 L501.86,128.05 L502.09,128.05 L502.32,128.05 L502.54,128.05 L502.77,128.05 L503.00,128.05 L503.22,128.05 L503.45,128.05 L503.68,128.05 L503.90,128.05 L504.13,128.05 L504.36,128.05 L504.58,128.05 L504.81,128.05 L505.04,128.05 L505.27,128.05 L505.49,128.05 L505.72,128.05 L505.95,128.05 L506.17,128.05 L506.40,128.05 L506.63,128.05 L506.85,128.05 L507.08,128.05 L507.31,128.05 L507.53,128.05 L507.76,128.05 L507.99,128.05 L508.22,128.05 L508.44,128.05 L508.67,128.05 L508.90,128.05 L509.12,128.05 L509.35,128.05 L509.58,128.05 L509.80,128.05 L510.03,128.05 L510.26,128.05 L510.48,128.05 L510.71,128.05 L510.94,128.05 L511.16,128.05 L511.39,128.05 L511.62,128.05 L511.85,128.05 L512.07,128.05 L512.30,128.05 L512.53,128.05 L512.75,128.05 L512.98,128.05 L513.21,128.05 L513.43,128.05 L513.66,128.05 L513.89,128.05 L514.11,128.05 L514.34,128.05 L514.57,128.05 L514.80,128.05 L515.02,128.05 L515.25,128.05 L515.48,128.05 L515.70,128.05 L515.93,128.05 L516.16,128.05 L516.38,128.05 L516.61,128.05 L516.84,128.05 L517.06,128.05 L517.29,128.05 L517.52,128.05 L517.75,128.05 L517.97,128.05 L518.20,128.05 L518.43,128.05 L518.65,128.05 L518.88,128.05 L519.11,128.05 L519.33,128.05 L519.56,128.05 L519.79,128.05 L520.01,128.05 L520.24,128.05 L520.47,128.05 L520.69,128.05 L520.92,128.05 L521.15,128.05 L521.38,128.05 L521.60,128.05 L521.83,128.05 L522.06,128.05 L522.28,128.05 L522.51,128.05 L522.74,128.05 L522.96,128.05 L523.19,128.05 L523.42,128.05 L523.64,128.05 L523.87,128.05 L524.10,128.05 L524.33,128.05 L524.55,128.05 L524.78,128.05 L525.01,128.05 L525.23,128.05 L525.46,128.05 L525.69,128.05 L525.91,128.05 L526.14,128.05 L526.37,128.05 L526.59,128.05 L526.82,128.05 L527.05,128.05 L527.27,128.05 L527.50,128.05 L527.73,128.05 L527.96,128.05 L528.18,128.05 L528.41,128.05 L528.64,128.05 L528.86,128.05 L529.09,128.05 L529.32,128.05 L529.54,128.05 L529.77,128.05 L530.00,128.05 L530.22,128.05 L530.45,128.05 L530.68,128.05 L530.91,128.05 L531.13,128.05 L531.36,128.05 L531.59,128.05 L531.81,128.05 L532.04,128.05 L532.27,128.05 L532.49,128.05 L532.72,128.05 L532.95,128.05 L533.17,128.05 L533.40,128.05 L533.63,128.05 L533.85,128.05 L534.08,128.05 L534.31,128.05 L534.54,128.05 L534.76,128.05 L534.99,128.05 L535.22,128.05 L535.44,128.05 L535.67,128.05 L535.90,128.05 L536.12,128.05 L536.35,128.05 L536.58,128.05 L536.80,128.05 L537.03,128.05 L537.26,128.05 L537.49,128.05 L537.71,128.05 L537.94,128.05 L538.17,128.05 L538.39,128.05 L538.62,128.05 L538.85,128.05 L539.07,128.05 L539.30,128.05 L539.53,128.05 L539.75,128.05 L539.98,128.05 L540.21,128.05 L540.44,128.05 L540.66,128.05 L540.89,128.05 L541.12,128.05 L541.34,128.05 L541.57,128.05 L541.80,128.05 L542.02,128.05 L542.25,128.05 L542.48,128.05 L542.70,128.05 L542.93,128.05 L543.16,128.05 L543.38,128.05 L543.40,128.05" stroke="#ff0000"/>
<path d="M52.60,128.05 L52.94,128.05 L53.28,128.05 L53.62,128.05 L53.96,128.05 L54.30,128.05 L54.64,128.05 L54.98,128.05 L55.32,128.05 L55.66,128.05 L56.00,128.05 L56.34,128.05 L56.68,128.05 L57.02,128.05 L57.36,128.05 L57.71,128.05 L58.05,128.05 L58.39,128.05 L58.73,128.05 L59.07,128.05 L59.41,128.05 L59.75,128.05 L60.09,128.05 L60.43,128.05 L60.77,128.05 L61.11,128.05 L61.45,128.05 L61.79,128.05 L62.13,128.05 L62.47,128.05 L62.81,128.05 L63.15,128.05 L63.49,128.05 L63.83,128.05 L64.17,128.05 L64.51,128.05 L64.85,128.05 L65.19,128.05 L65.53,128.05 L65.87,128.05 L66.21,128.05 L66.55,128.05 L66.89,128.05 L67.24,128.05 L67.58,128.05 L67.92,128.05 L68.26,128.05 L68.60,128.05 L68.94,128.05 L69.28,128.05 L69.62,128.05 L69.96,128.05 L70.30,128.05 L70.64,128.05 L70.98,128.05 L71.32,128.05 L71.66,128.05 L72.00,128.05 L72.34,128.05 L72.68,128.05 L73.02,128.05 L73.36,128.05 L73.70,128.05 L74.04,128.05 L74.38,128.05 L74.72,128.05 L75.06,128.05 L75.40,128.05 L75.74,128.05 L76.08,128.05 L76.42,128.05 L76.76,128.05 L77.11,128.05 L77.45,128.05 L77.79,128.05 L78.13,128.05 L78.47,128.05 L78.81,128.05 L79.15,128.05 L79.49,128.05 L79.83,128.05 L80.17,128.05 L80.51,128.05 L80.85,128.05 L81.19,128.05 L81.53,128.05 L81.87,128.05 L82.21,128.05 L82.55,128.05 L82.89,128.05 L83.23,128.05 L83.57,128.05 L83.91,128.05 L84.25,128.05 L84.59,128.05 L84.93,128.05 L85.27,128.05 L85.61,128.05 L85.95,128.05 L86.29,128.05 L86.64,128.05 L86.98,128.05 L87.32,128.05 L87.66,128.05 L88.00,128.05 L88.34,128.05 L88.68,128.05 L89.02,128.05 L89.36,128.05 L89.70,128.05 L90.04,128.05 L90.38,128.05 L90.72,128.05 L91.06,128.05 L91.40,128.05 L91.74,128.05 L92.08,128.05 L92.42,128.05 L92.76,128.05 L93.10,128.05 L93.44,128.05 L93.78,128.05 L94.12,128.05 L94.46,128.05 L94.80,128.05 L95.14,128.05 L95.48,128.05 L95.82,128.05 L96.16,128.05 L96.51,128.05 L96.85,128.05 L97.19,128.05 L97.53,128.05 L97.87,128.05 L98.21,128.05 L98.55,128.05 L98.89,128.05 L99.23,128.05 L99.57,128.05 L99.91,128.05 L100.25,128.05 L100.59,128.05 L100.93,128.05 L101.27,128.05 L101.61,128.05 L101.95,128.05 L102.29,128.05 L102.63,128.05 L102.97,128.05 L103.31,128.05 L103.65,128.05 L103.99,128.05 L104.33,128.05 L104.67,128.05 L105.01,128.05 L105.35,128.05 L105.69,128.05 L106.03,128.05 L106.38,128.05 L106.72,128.05 L107.06,128.05 L107.40,128.05 L107.74,128.05 L108.08,128.05 L108.42,128.05 L108.76,128.05 L109.10,128.05 L109.44,128.05 L109.78,128.05 L110.12,128.05 L110.46,128.05 L110.80,128.05 L111.14,128.05 L111.48,128.05 L111.82,128.05 L112.16,128.05 L112.50,128.05 L112.84,128.05 L113.18,128.05 L113.52,128.05 L113.86,128.05 L114.20,128.05 L114.54,128.05 L114.88,128.05 L115.22,128.05 L115.56,128.05 L115.91,128.05 L116.25,128.05 L116.59,128.05 L116.93,128.05 L117.27,128.05 L117.61,128.05 L117.95,128.05 L118.29,128.05 L118.63,128.05 L118.97,128.05 L119.31,128.05 L119.65,128.05 L119.99,128.05 L120.33,128.05 L120.67,128.05 L121.01,128.05 L121.35,128.05 L121.69,128.05 L122.03,128.05 L122.37,128.05 L122.71,128.05 L123.05,128.05 L123.39,128.05 L123.73,128.05 L124.07,128.05 L124.41,128.05 L124.75,128.05 L125.09,128.05 L125.43,128.05 L125.78,128.05 L126.12,128.05 L126.46,128.05 L126.80,128.05 L127.14,128.05 L127.48,128.05 L127.82,128.05 L128.16,128.05 L128.50,128.05 L128.84,128.05 L129.18,128.05 L129.52,128.05 L129.86,128.05 L130.20,128.05 L130.54,128.05 L130.88,128.05 L131.22,128.05 L131.56,128.05 L131.90,128.05 L132.24,128.05 L132.58,128.05 L132.92,128.05 L133.26,128.05 L133.60,128.05 L133.94,128.05 L134.28,128.05 L134.62,128.05 L134.96,128.05 L135.31,128.05 L135.65,128.05 L135.99,128.05 L136.33,128.05 L136.67,128.05 L137.01,128.05 L137.35,128.05 L137.69,128.05 L138.03,128.05 L138.37,128.05 L138.71,128.05 L139.05,128.05 L139.39,128.05 L139.73,128.05 L140.07,128.05 L140.41,128.05 L140.75,128.05 L141.09,128.05 L141.43,128.05 L141.77,128.05 L142.11,128.05 L142.45,128.05 L142.79,128.05 L143.13,128.05 L143.47,128.05 L143.81,128.05 L144.15,128.05 L144.49,128.05 L144.83,128.05 L145.18,128.05 L145.52,128.05 L145.86,128.05 L146.20,128.05 L146.54,128.05 L146.88,128.05 L147.22,128.05 L147.56,128.05 L147.90,128.05 L148.24,128.05 L148.58,128.05 L148.92,128.05 L149.26,128.05 L149.60,128.05 L149.94,128.05 L150.28,128.05 L150.62,128.05 L150.96,128.05 L151.30,128.05 L151.64,128.05 L151.98,128.05 L152.32,128.05 L152.66,128.05 L153.00,128.05 L153.34,128.05 L153.68,128.05 L154.02,128.05 L154.36,128.05 L154.71,128.05 L155.05,128.05 L155.39,128.05 L155.73,128.05 L156.07,128.05 L156.41,128.05 L156.75,128.05 L157.09,128.05 L157.43,128.05 L157.77,128.05 L158.11,128.05 L158.45,128.05 L158.79,128.05 L159.13,128.05 L159.47,128.05 L159.81,128.05 L160.15,128.05 L160.49,128.05 L160.83,128.05 L161.17,128.05 L161.51,128.05 L161.85,128.05 L162.19,128.05 L162.53,128.05 L162.87,128.05 L163.21,128.05 L163.55,128.05 L163.89,128.05 L164.23,128.05 L164.58,128.05 L164.92,128.05 L165.26,128.05 L165.60,128.05 L165.94,128.05 L166.28,128.05 L166.62,128.05 L166.96,128.05 L167.30,128.05 L167.64,128.05 L167.98,128.05 L168.32,128.05 L168.66,128.05 L169.00,128.05 L169.34,128.05 L169.68,128.05 L170.02,128.05 L170.36,128.05 L170.70,128.05 L171.04,128.05 L171.38,128.05 L171.72,128.05 L172.06,128.05 L172.40,128.05 L172.74,128.05 L173.08,128.05 L173.42,128.02 L173.76,127.98 L174.10,127.92 L174.45,127.84 L174.79,127.75 L175.13,127.64 L175.47,127.52 L175.81,127.39 L176.15,127.25 L176.49,127.10 L176.83,126.93 L177.17,126.76 L177.51,126.59 L177.85,126.40 L178.19,126.22 L178.53,126.03 L178.87,125.80 L179.21,125.53 L179.55,125.21 L179.89,124.85 L180.23,124.45 L180.57,124.02 L180.91,123.57 L181.25,123.10 L181.59,122.61 L181.93,122.11 L182.27,121.61 L182.61,121.11 L182.95,120.62 L183.29,120.13 L183.63,119.62 L183.98,119.10 L184.32,118.56 L184.66,118.00 L185.00,117.43 L185.34,116.85 L185.68,116.27 L186.02,115.67 L186.36,115.07 L186.70,114.47 L187.04,113.87 L187.38,113.26 L187.72,112.66 L188.06,112.05 L188.40,111.43 L188.74,110.79 L189.08,110.14 L189.42,109.49 L189.76,108.83 L190.10,108.17 L190.44,107.51 L190.78,106.86 L191.12,106.21 L191.46,105.57 L191.80,104.93 L192.14,104.31 L192.48,103.71 L192.82,103.12 L193.16,102.55 L193.50,102.01 L193.85,101.49 L194.19,101.00 L194.53,100.51 L194.87,100.05 L195.21,99.59 L195.55,99.14 L195.89,98.69 L196.23,98.24 L196.57,97.78 L196.91,97.32 L197.25,96.84 L197.59,96.35 L197.93,95.84 L198.27,95.31 L198.61,94.76 L198.95,94.17 L199.29,93.46 L199.63,93.13 L199.97,91.80 L200.31,91.60 L200.65,89.93 L200.99,90.08 L201.33,87.96 L201.67,88.38 L202.01,85.71 L202.35,86.79 L202.69,84.24 L203.03,85.48 L203.38,81.84 L203.72,84.29 L204.06,80.67 L204.40,82.27 L204.74,78.81 L205.08,82.43 L205.42,78.01 L205.76,81.34 L206.10,78.00 L206.44,81.68 L206.78,77.99 L207.12,81.29 L207.46,76.98 L207.80,79.89 L208.14,75.86 L208.48,79.53 L208.82,76.72 L209.16,79.18 L209.50,75.32 L209.84,78.92 L210.18,75.27 L210.52,79.52 L210.86,75.98 L211.20,79.03 L211.54,75.17 L211.88,79.05 L212.22,74.90 L212.56,78.58 L212.90,74.63 L213.25,77.96 L213.59,74.04 L213.93,78.64 L214.27,74.54 L214.61,77.44 L214.95,74.17 L215.29,77.73 L215.63,74.55 L215.97,77.53 L216.31,74.09 L216.65,77.74 L216.99,74.54 L217.33,78.08 L217.67,74.42 L218.01,77.43 L218.35,74.90 L218.69,77.18 L219.03,74.13 L219.37,78.39 L219.71,73.72 L220.05,77.66 L220.39,74.26 L220.73,78.37 L221.07,74.19 L221.41,78.07 L221.75,74.32 L222.09,77.46 L222.43,74.04 L222.78,77.55 L223.12,74.29 L223.46,78.55 L223.80,74.00 L224.14,77.29 L224.48,73.73 L224.82,78.38 L225.16,73.86 L225.50,76.93 L225.84,73.38 L226.18,76.86 L226.52,73.38 L226.86,77.64 L227.20,73.96 L227.54,77.18 L227.88,73.37 L228.22,76.80 L228.56,73.91 L228.90,76.49 L229.24,73.94 L229.58,76.54 L229.92,73.78 L230.26,77.47 L230.60,73.42 L230.94,77.86 L231.28,73.46 L231.62,78.09 L231.96,74.65 L232.30,78.01 L232.65,75.13 L232.99,78.14 L233.33,73.79 L233.67,77.79 L234.01,74.79 L234.35,78.02 L234.69,74.74 L235.03,78.92 L235.37,74.15 L235.71,78.93 L236.05,74.61 L236.39,78.91 L236.73,75.45 L237.07,78.62 L237.41,74.76 L237.75,78.88 L238.09,74.64 L238.43,78.43 L238.77,75.32 L239.11,79.22 L239.45,75.14 L239.79,79.26 L240.13,75.44 L240.47,79.28 L240.81,75.40 L241.15,79.18 L241.49,76.25 L241.83,78.98 L242.17,76.25 L242.52,79.17 L242.86,75.77 L243.20,78.85 L243.54,75.69 L243.88,79.24 L244.22,76.53 L244.56,78.97 L244.90,76.22 L245.24,79.07 L245.58,76.72 L245.92,79.64 L246.26,77.33 L246.60,79.92 L246.94,77.46 L247.28,79.49 L247.62,77.29 L247.96,79.48 L248.30,77.33 L248.64,79.97 L248.98,77.37 L249.32,80.13 L249.66,77.85 L250.00,79.44 L250.34,78.02 L250.68,79.64 L251.02,78.06 L251.36,79.86 L251.70,78.67 L252.05,80.21 L252.39,78.62 L252.73,80.52 L253.07,78.61 L253.41,80.45 L253.75,79.08 L254.09,80.58 L254.43,79.17 L254.77,80.66 L255.11,79.58 L255.45,80.85 L255.79,79.86 L256.13,81.02 L256.47,80.56 L256.81,81.21 L257.15,80.93 L257.49,81.50 L257.83,81.24 L258.17,81.93 L258.51,81.45 L258.85,82.18 L259.19,81.63 L259.53,82.27 L259.87,81.81 L260.21,82.50 L260.55,82.19 L260.89,82.80 L261.23,82.40 L261.57,83.05 L261.92,82.54 L262.26,83.20 L262.60,82.84 L262.94,83.51 L263.28,83.05 L263.62,83.67 L263.96,83.28 L264.30,83.77 L264.64,83.32 L264.98,83.92 L265.32,83.43 L265.66,84.09 L266.00,83.65 L266.34,84.07 L266.68,83.66 L267.02,84.18 L267.36,83.71 L267.70,84.17 L268.04,83.86 L268.38,84.32 L268.72,83.83 L269.06,84.35 L269.40,83.91 L269.74,84.57 L270.08,84.02 L270.42,84.63 L270.76,84.13 L271.10,84.54 L271.45,84.20 L271.79,84.63 L272.13,84.24 L272.47,84.79 L272.81,84.32 L273.15,84.89 L273.49,84.39 L273.83,84.91 L274.17,84.47 L274.51,85.04 L274.85,84.67 L275.19,85.21 L275.53,84.73 L275.87,85.54 L276.21,85.21 L276.55,85.85 L276.89,85.48 L277.23,86.06 L277.57,85.73 L277.91,86.45 L278.25,86.13 L278.59,86.74 L278.93,86.39 L279.27,87.00 L279.61,86.73 L279.95,87.52 L280.29,87.14 L280.63,87.93 L280.97,87.78 L281.32,88.60 L281.66,88.38 L282.00,89.28 L282.34,89.07" stroke="#ff00ff" stroke-dasharray="12 11" stroke-dashoffset="0.00"/>
<path d="M282.34,89.07 L282.68,89.75 L283.02,89.36 L283.36,90.04 L283.70,89.67 L284.04,90.34 L284.38,90.05 L284.72,90.63 L285.06,90.24 L285.40,90.77 L285.74,90.52 L286.08,91.07 L286.42,90.60 L286.76,91.22 L287.10,90.79 L287.44,91.39 L287.78,91.07 L288.12,91.55 L288.46,91.26 L288.80,91.81 L289.14,91.44 L289.48,91.86 L289.82,91.51 L290.16,92.00 L290.50,91.62 L290.85,92.08 L291.19,91.83 L291.53,92.29 L291.87,91.87 L292.21,92.45 L292.55,92.05 L292.89,92.52 L293.23,92.20 L293.57,92.60 L293.91,92.41 L294.25,92.90 L294.59,92.74 L294.93,93.31 L295.27,93.68 L295.61,94.34 L295.95,95.09 L296.29,95.94 L296.63,96.90 L296.97,97.94 L297.31,99.06 L297.65,100.25 L297.99,101.50 L298.33,102.80 L298.67,104.27 L299.01,106.26 L299.35,108.60 L299.69,111.15 L300.03,113.74 L300.37,116.60 L300.72,119.71 L301.06,122.91 L301.40,126.06 L301.74,129.02 L302.08,131.93 L302.42,134.84 L302.76,137.72 L303.10,140.55 L303.44,143.30 L303.78,145.95 L304.12,148.47 L304.46,150.84 L304.80,153.09 L305.14,155.25 L305.48,157.32 L305.82,159.32 L306.16,161.28 L306.50,163.21 L306.84,165.12 L307.18,167.07 L307.52,169.11 L307.86,171.15 L308.20,173.09 L308.54,174.82 L308.88,176.25 L309.22,177.60 L309.56,177.91 L309.90,179.89" stroke="#ff00ff" stroke-dasharray="12 11" stroke-dashoffset="20.95"/>
<path d="M310.24,179.03 L310.59,182.78 L310.93,180.42 L311.27,184.35 L311.61,181.29 L311.95,186.36 L312.29,183.47 L312.63,187.69 L312.97,183.82 L313.31,187.84 L313.65,184.81 L313.99,189.22 L314.33,185.39 L314.67,189.08 L315.01,186.35 L315.35,190.52 L315.69,186.33 L316.03,190.79 L316.37,186.70 L316.71,190.87 L317.05,186.71 L317.39,190.29 L317.73,186.65 L318.07,190.98 L318.41,187.98 L318.75,191.37 L319.09,187.17 L319.43,191.40 L319.77,187.67 L320.12,190.84 L320.46,187.19 L320.80,190.92 L321.14,187.38 L321.48,190.04 L321.82,187.20 L322.16,189.45 L322.50,186.26 L322.84,189.75 L323.18,186.00 L323.52,189.30 L323.86,185.46 L324.20,189.94 L324.54,185.41 L324.88,189.24 L325.22,186.24 L325.56,190.25 L325.90,185.98 L326.24,189.18 L326.58,184.48 L326.92,189.22 L327.26,185.40 L327.60,188.93 L327.94,185.39 L328.28,188.30 L328.62,185.55 L328.96,189.10 L329.30,185.69 L329.64,189.53 L329.99,184.43 L330.33,188.42 L330.67,184.89 L331.01,189.23 L331.35,184.71 L331.69,188.16 L332.03,183.98 L332.37,187.72 L332.71,183.98 L333.05,187.88 L333.39,184.17 L333.73,187.72 L334.07,183.97 L334.41,187.80 L334.75,184.47 L335.09,188.18 L335.43,184.45 L335.77,188.14 L336.11,184.14 L336.45,187.42 L336.79,183.06 L337.13,187.55 L337.47,183.06 L337.81,186.83 L338.15,183.10 L338.49,186.80 L338.83,181.83 L339.17,185.80 L339.52,182.23 L339.86,186.43 L340.20,182.28 L340.54,185.28 L340.88,182.78 L341.22,185.51 L341.56,181.61 L341.90,184.71 L342.24,181.40 L342.58,183.53 L342.92,180.58 L343.26,183.31 L343.60,180.39 L343.94,182.61 L344.28,180.40 L344.62,182.74 L344.96,179.34 L345.30,181.30 L345.64,179.71 L345.98,181.39 L346.32,178.60 L346.66,181.07 L347.00,178.47 L347.34,180.93 L347.68,178.73 L348.02,180.80 L348.36,178.06 L348.70,179.92 L349.04,177.86 L349.39,180.03 L349.73,177.94 L350.07,179.66 L350.41,177.86 L350.75,179.88 L351.09,177.88 L351.43,179.38 L351.77,177.73 L352.11,179.94 L352.45,177.21 L352.79,179.31 L353.13,177.60 L353.47,179.18 L353.81,176.97 L354.15,179.17 L354.49,176.99 L354.83,179.36 L355.17,177.09 L355.51,179.29 L355.85,177.27 L356.19,178.79 L356.53,177.02 L356.87,179.37 L357.21,177.29 L357.55,178.89 L357.89,177.02 L358.23,179.06 L358.57,176.81 L358.92,178.74 L359.26,176.53 L359.60,177.97 L359.94,176.26 L360.28,178.04 L360.62,175.60 L360.96,177.36 L361.30,175.22 L361.64,176.73 L361.98,174.89 L362.32,176.05 L362.66,174.05 L363.00,175.52 L363.34,173.78 L363.68,175.00 L364.02,173.60 L364.36,174.57 L364.70,173.01 L365.04,174.66 L365.38,173.11 L365.72,174.59 L366.06,172.86 L366.40,174.30 L366.74,172.55 L367.08,174.18 L367.42,172.07 L367.76,174.02 L368.10,172.67 L368.44,174.03 L368.79,172.19 L369.13,173.53 L369.47,172.14 L369.81,173.77 L370.15,172.01 L370.49,173.40 L370.83,171.91 L371.17,173.08 L371.51,171.78 L371.85,173.59 L372.19,172.05 L372.53,173.38 L372.87,171.74 L373.21,173.47 L373.55,171.79 L373.89,173.04 L374.23,171.77 L374.57,173.42 L374.91,171.54 L375.25,173.41 L375.59,171.84 L375.93,173.30 L376.27,171.86 L376.61,173.19 L376.95,171.60 L377.29,173.31 L377.63,171.52 L377.97,173.13 L378.31,171.83 L378.66,173.05 L379.00,171.63 L379.34,173.43 L379.68,171.98 L380.02,173.41 L380.36,171.53 L380.70,173.30 L381.04,171.42 L381.38,173.39 L381.72,171.82 L382.06,173.01 L382.40,171.62 L382.74,173.33 L383.08,172.17 L383.42,173.48 L383.76,171.89 L384.10,173.15 L384.44,171.56 L384.78,173.17 L385.12,171.54 L385.46,173.11 L385.80,171.91 L386.14,173.36 L386.48,171.77 L386.82,173.34 L387.16,171.60 L387.50,173.15 L387.84,171.74 L388.19,172.82 L388.53,171.30 L388.87,173.15 L389.21,171.21 L389.55,172.98 L389.89,171.04 L390.23,172.70 L390.57,171.06 L390.91,171.92 L391.25,170.77 L391.59,171.99 L391.93,170.61 L392.27,171.45 L392.61,170.53 L392.95,171.17" stroke="#ff00ff" stroke-dasharray="12 11" stroke-dashoffset="0.00"/>
<path d="M392.95,171.17 L393.29,170.24 L393.63,170.59 L393.97,169.76 L394.31,169.92 L394.65,169.19 L394.99,169.01 L395.33,168.59 L395.67,168.21 L396.01,167.82 L396.35,167.42 L396.69,167.02 L397.03,166.61 L397.37,166.20 L397.71,165.80 L398.06,165.40 L398.40,165.01 L398.74,164.62 L399.08,164.23 L399.42,163.83 L399.76,163.42 L400.10,163.00 L400.44,162.57 L400.78,162.14 L401.12,161.69 L401.46,161.24 L401.80,160.79 L402.14,160.33 L402.48,159.87 L402.82,159.41 L403.16,158.95 L403.50,158.48 L403.84,158.02 L404.18,157.56 L404.52,157.10 L404.86,156.64 L405.20,156.19 L405.54,155.74 L405.88,155.31 L406.22,154.88 L406.56,154.47 L406.90,154.07 L407.24,153.67 L407.59,153.27 L407.93,152.88 L408.27,152.49 L408.61,152.09 L408.95,151.70 L409.29,151.30 L409.63,150.89 L409.97,150.48 L410.31,150.05 L410.65,149.61 L410.99,149.16 L411.33,148.69 L411.67,148.21 L412.01,147.71 L412.35,147.18 L412.69,146.64 L413.03,146.06 L413.37,145.47 L413.71,144.83 L414.05,144.11 L414.39,143.32 L414.73,142.47 L415.07,141.57 L415.41,140.63 L415.75,139.64 L416.09,138.64 L416.43,137.61 L416.77,136.58 L417.11,135.55 L417.46,134.54 L417.80,133.54 L418.14,132.57 L418.48,131.64 L418.82,130.73 L419.16,129.75 L419.50,128.71 L419.84,127.65 L420.18,126.58 L420.52,125.52 L420.86,124.50 L421.20,123.54 L421.54,122.67 L421.88,121.90 L422.22,121.26 L422.56,120.77 L422.90,120.46 L423.24,120.24 L423.58,120.04 L423.92,119.85 L424.26,119.67 L424.60,119.51 L424.94,119.37 L425.28,119.24 L425.62,119.14 L425.96,119.05 L426.30,118.99 L426.64,118.95 L426.99,118.94 L427.33,118.96 L427.67,119.04 L428.01,119.15 L428.35,119.31 L428.69,119.49 L429.03,119.71 L429.37,119.94 L429.71,120.20 L430.05,120.47 L430.39,120.75 L430.73,121.03 L431.07,121.32 L431.41,121.60 L431.75,121.86 L432.09,122.12 L432.43,122.35 L432.77,122.56 L433.11,122.73 L433.45,122.90 L433.79,123.07 L434.13,123.24 L434.47,123.42 L434.81,123.60 L435.15,123.77 L435.49,123.95 L435.83,124.12 L436.17,124.29 L436.51,124.45 L436.86,124.61 L437.20,124.76 L437.54,124.90 L437.88,125.03 L438.22,125.14 L438.56,125.25 L438.90,125.33 L439.24,125.41 L439.58,125.46 L439.92,125.50 L440.26,125.52 L440.60,125.51 L440.94,125.50 L441.28,125.46 L441.62,125.42 L441.96,125.36 L442.30,125.31 L442.64,125.25 L442.98,125.19 L443.32,125.13 L443.66,125.08 L444.00,125.05 L444.34,125.02 L444.68,125.01 L445.02,125.02 L445.36,125.05 L445.70,125.09 L446.04,125.14 L446.38,125.20 L446.73,125.28 L447.07,125.37 L447.41,125.46 L447.75,125.56 L448.09,125.66 L448.43,125.77 L448.77,125.88 L449.11,126.00 L449.45,126.11 L449.79,126.22 L450.13,126.32 L450.47,126.43 L450.81,126.52 L451.15,126.61 L451.49,126.69 L451.83,126.76 L452.17,126.83 L452.51,126.89 L452.85,126.95 L453.19,127.02 L453.53,127.08 L453.87,127.15 L454.21,127.21 L454.55,127.28 L454.89,127.34 L455.23,127.40 L455.57,127.46 L455.91,127.52 L456.26,127.58 L456.60,127.64 L456.94,127.69 L457.28,127.74 L457.62,127.79 L457.96,127.84 L458.30,127.88 L458.64,127.92 L458.98,127.95 L459.32,127.98 L459.66,128.00 L460.00,128.02 L460.34,128.04 L460.68,128.05 L461.02,128.05 L461.36,128.05 L461.70,128.05 L462.04,128.05 L462.38,128.05 L462.72,128.05 L463.06,128.05 L463.40,128.05 L463.74,128.05 L464.08,128.05 L464.42,128.05 L464.76,128.05 L465.10,128.05 L465.44,128.05 L465.78,128.05 L466.13,128.05 L466.47,128.05 L466.81,128.05 L467.15,128.05 L467.49,128.05 L467.83,128.05 L468.17,128.05 L468.51,128.05 L468.85,128.05 L469.19,128.05 L469.53,128.05 L469.87,128.05 L470.21,128.05 L470.55,128.05 L470.89,128.05 L471.23,128.05 L471.57,128.05 L471.91,128.05 L472.25,128.05 L472.59,128.05 L472.93,128.05 L473.27,128.05 L473.61,128.05 L473.95,128.05 L474.29,128.05 L474.63,128.05 L474.97,128.05 L475.31,128.05 L475.66,128.05 L476.00,128.05 L476.34,128.05 L476.68,128.05 L477.02,128.05 L477.36,128.05 L477.70,128.05 L478.04,128.05 L478.38,128.05 L478.72,128.05 L479.06,128.05 L479.40,128.05 L479.74,128.05 L480.08,128.05 L480.42,128.05 L480.76,128.05 L481.10,128.05 L481.44,128.05 L481.78,128.05 L482.12,128.05 L482.46,128.05 L482.80,128.05 L483.14,128.05 L483.48,128.05 L483.82,128.05 L484.16,128.05 L484.50,128.05 L484.84,128.05 L485.18,128.05 L485.53,128.05 L485.87,128.05 L486.21,128.05 L486.55,128.05 L486.89,128.05 L487.23,128.05 L487.57,128.05 L487.91,128.05 L488.25,128.05 L488.59,128.05 L488.93,128.05 L489.27,128.05 L489.61,128.05 L489.95,128.05 L490.29,128.05 L490.63,128.05 L490.97,128.05 L491.31,128.05 L491.65,128.05 L491.99,128.05 L492.33,128.05 L492.67,128.05 L493.01,128.05 L493.35,128.05 L493.69,128.05 L494.03,128.05 L494.37,128.05 L494.71,128.05 L495.06,128.05 L495.40,128.05 L495.74,128.05 L496.08,128.05 L496.42,128.05 L496.76,128.05 L497.10,128.05 L497.44,128.05 L497.78,128.05 L498.12,128.05 L498.46,128.05 L498.80,128.05 L499.14,128.05 L499.48,128.05 L499.82,128.05 L500.16,128.05 L500.50,128.05 L500.84,128.05 L501.18,128.05 L501.52,128.05 L501.86,128.05 L502.20,128.05 L502.54,128.05 L502.88,128.05 L503.22,128.05 L503.56,128.05 L503.90,128.05 L504.24,128.05 L504.58,128.05 L504.93,128.05 L505.27,128.05 L505.61,128.05 L505.95,128.05 L506.29,128.05 L506.63,128.05 L506.97,128.05 L507.31,128.05 L507.65,128.05 L507.99,128.05 L508.33,128.05 L508.67,128.05 L509.01,128.05 L509.35,128.05 L509.69,128.05 L510.03,128.05 L510.37,128.05 L510.71,128.05 L511.05,128.05 L511.39,128.05 L511.73,128.05 L512.07,128.05 L512.41,128.05 L512.75,128.05 L513.09,128.05 L513.43,128.05 L513.77,128.05 L514.11,128.05 L514.45,128.05 L514.80,128.05 L515.14,128.05 L515.48,128.05 L515.82,128.05 L516.16,128.05 L516.50,128.05 L516.84,128.05 L517.18,128.05 L517.52,128.05 L517.86,128.05 L518.20,128.05 L518.54,128.05 L518.88,128.05 L519.22,128.05 L519.56,128.05 L519.90,128.05 L520.24,128.05 L520.58,128.05 L520.92,128.05 L521.26,128.05 L521.60,128.05 L521.94,128.05 L522.28,128.05 L522.62,128.05 L522.96,128.05 L523.30,128.05 L523.64,128.05 L523.98,128.05 L524.33,128.05 L524.67,128.05 L525.01,128.05 L525.35,128.05 L525.69,128.05 L526.03,128.05 L526.37,128.05 L526.71,128.05 L527.05,128.05 L527.39,128.05 L527.73,128.05 L528.07,128.05 L528.41,128.05 L528.75,128.05 L529.09,128.05 L529.43,128.05 L529.77,128.05 L530.11,128.05 L530.45,128.05 L530.79,128.05 L531.13,128.05 L531.47,128.05 L531.81,128.05 L532.15,128.05 L532.49,128.05 L532.83,128.05 L533.17,128.05 L533.51,128.05 L533.85,128.05 L534.20,128.05 L534.54,128.05 L534.88,128.05 L535.22,128.05 L535.56,128.05 L535.90,128.05 L536.24,128.05 L536.58,128.05 L536.92,128.05 L537.26,128.05 L537.60,128.05 L537.94,128.05 L538.28,128.05 L538.62,128.05 L538.96,128.05 L539.30,128.05 L539.64,128.05 L539.98,128.05 L540.32,128.05 L540.66,128.05 L541.00,128.05 L541.34,128.05 L541.68,128.05 L542.02,128.05 L542.36,128.05 L542.70,128.05 L543.04,128.05 L543.38,128.05 L543.40,128.05" stroke="#ff00ff" stroke-dasharray="12 11" stroke-dashoffset="10.63"/>
<path d="M52.60,128.05 L52.94,128.05 L53.28,128.05 L53.62,128.05 L53.96,128.05 L54.30,128.05 L54.64,128.05 L54.98,128.05 L55.32,128.05 L55.66,128.05 L56.00,128.05 L56.34,128.05 L56.68,128.05 L57.02,128.05 L57.36,128.05 L57.71,128.05 L58.05,128.05 L58.39,128.05 L58.73,128.05 L59.07,128.05 L59.41,128.05 L59.75,128.05 L60.09,128.05 L60.43,128.05 L60.77,128.05 L61.11,128.05 L61.45,128.05 L61.79,128.05 L62.13,128.05 L62.47,128.05 L62.81,128.05 L63.15,128.05 L63.49,128.05 L63.83,128.05 L64.17,128.05 L64.51,128.05 L64.85,128.05 L65.19,128.05 L65.53,128.05 L65.87,128.05 L66.21,128.05 L66.55,128.05 L66.89,128.05 L67.24,128.05 L67.58,128.05 L67.92,128.05 L68.26,128.05 L68.60,128.05 L68.94,128.05 L69.28,128.05 L69.62,128.05 L69.96,128.05 L70.30,128.05 L70.64,128.05 L70.98,128.05 L71.32,128.05 L71.66,128.05 L72.00,128.05 L72.34,128.05 L72.68,128.05 L73.02,128.05 L73.36,128.05 L73.70,128.05 L74.04,128.05 L74.38,128.05 L74.72,128.05 L75.06,128.05 L75.40,128.05 L75.74,128.05 L76.08,128.05 L76.42,128.05 L76.76,128.05 L77.11,128.05 L77.45,128.05 L77.79,128.05 L78.13,128.05 L78.47,128.05 L78.81,128.05 L79.15,128.05 L79.49,128.05 L79.83,128.05 L80.17,128.05 L80.51,128.05 L80.85,128.05 L81.19,128.05 L81.53,128.05 L81.87,128.05 L82.21,128.05 L82.55,128.05 L82.89,128.05 L83.23,128.05 L83.57,128.05 L83.91,128.05 L84.25,128.05 L84.59,128.05 L84.93,128.05 L85.27,128.05 L85.61,128.05 L85.95,128.05 L86.29,128.05 L86.64,128.05 L86.98,128.05 L87.32,128.05 L87.66,128.05 L88.00,128.05 L88.34,128.05 L88.68,128.05 L89.02,128.05 L89.36,128.05 L89.70,128.05 L90.04,128.05 L90.38,128.05 L90.72,128.05 L91.06,128.05 L91.40,128.05 L91.74,128.05 L92.08,128.05 L92.42,128.05 L92.76,128.05 L93.10,128.05 L93.44,128.05 L93.78,128.05 L94.12,128.05 L94.46,128.05 L94.80,128.05 L95.14,128.05 L95.48,128.05 L95.82,128.05 L96.16,128.05 L96.51,128.05 L96.85,128.05 L97.19,128.05 L97.53,128.05 L97.87,128.05 L98.21,128.05 L98.55,128.05 L98.89,128.05 L99.23,128.05 L99.57,128.05 L99.91,128.05 L100.25,128.05 L100.59,128.05 L100.93,128.05 L101.27,128.05 L101.61,128.05 L101.95,128.05 L102.29,128.05 L102.63,128.05 L102.97,128.05 L103.31,128.05 L103.65,128.05 L103.99,128.05 L104.33,128.05 L104.67,128.05 L105.01,128.05 L105.35,128.05 L105.69,128.05 L106.03,128.05 L106.38,128.05 L106.72,128.05 L107.06,128.05 L107.40,128.05 L107.74,128.05 L108.08,128.05 L108.42,128.05 L108.76,128.05 L109.10,128.05 L109.44,128.05 L109.78,128.05 L110.12,128.05 L110.46,128.05 L110.80,128.05 L111.14,128.05 L111.48,128.05 L111.82,128.05 L112.16,128.05 L112.50,128.05 L112.84,128.05 L113.18,128.05 L113.52,128.05 L113.86,128.05 L114.20,128.05 L114.54,128.05 L114.88,128.05 L115.22,128.05 L115.56,128.05 L115.91,128.05 L116.25,128.05 L116.59,128.05 L116.93,128.05 L117.27,128.05 L117.61,128.05 L117.95,128.05 L118.29,128.05 L118.63,128.05 L118.97,128.05 L119.31,128.05 L119.65,128.05 L119.99,128.05 L120.33,128.05 L120.67,128.05 L121.01,128.05 L121.35,128.05 L121.69,128.05 L122.03,128.05 L122.37,128.05 L122.71,128.05 L123.05,128.05 L123.39,128.05 L123.73,128.05 L124.07,128.05 L124.41,128.05 L124.75,128.05 L125.09,128.05 L125.43,128.05 L125.78,128.05 L126.12,128.05 L126.46,128.05 L126.80,128.05 L127.14,128.05 L127.48,128.05 L127.82,128.05 L128.16,128.05 L128.50,128.05 L128.84,128.05 L129.18,128.05 L129.52,128.05 L129.86,128.05 L130.20,128.05 L130.54,128.05 L130.88,128.05 L131.22,128.05 L131.56,128.05 L131.90,128.05 L132.24,128.05 L132.58,128.05 L132.92,128.05 L133.26,128.05 L133.60,128.05 L133.94,128.05 L134.28,128.05 L134.62,128.05 L134.96,128.05 L135.31,128.05 L135.65,128.05 L135.99,128.05 L136.33,128.05 L136.67,128.05 L137.01,128.05 L137.35,128.05 L137.69,128.05 L138.03,128.05 L138.37,128.05 L138.71,128.05 L139.05,128.05 L139.39,128.05 L139.73,128.05 L140.07,128.05 L140.41,128.05 L140.75,128.05 L141.09,128.05 L141.43,128.05 L141.77,128.05 L142.11,128.05 L142.45,128.05 L142.79,128.05 L143.13,128.05 L143.47,128.05 L143.81,128.05 L144.15,128.05 L144.49,128.05 L144.83,128.05 L145.18,128.05 L145.52,128.05 L145.86,128.05 L146.20,128.05 L146.54,128.05 L146.88,128.05 L147.22,128.05 L147.56,128.05 L147.90,128.05 L148.24,128.05 L148.58,128.05 L148.92,128.05 L149.26,128.05 L149.60,128.05 L149.94,128.05 L150.28,128.05 L150.62,128.05 L150.96,128.05 L151.30,128.05 L151.64,128.05 L151.98,128.05 L152.32,128.05 L152.66,128.05 L153.00,128.05 L153.34,128.05 L153.68,128.05 L154.02,128.05 L154.36,128.05 L154.71,128.05 L155.05,128.05 L155.39,128.05 L155.73,128.05 L156.07,128.05 L156.41,128.05 L156.75,128.05 L157.09,128.05 L157.43,128.05 L157.77,128.05 L158.11,128.05 L158.45,128.05 L158.79,128.05 L159.13,128.05 L159.47,128.05 L159.81,128.05 L160.15,128.05 L160.49,128.05 L160.83,128.05 L161.17,128.05 L161.51,128.05 L161.85,128.05 L162.19,128.05 L162.53,128.05 L162.87,128.05 L163.21,128.05 L163.55,128.05 L163.89,128.05 L164.23,128.05 L164.58,128.05 L164.92,128.05 L165.26,128.05 L165.60,128.05 L165.94,128.05 L166.28,128.05 L166.62,128.05 L166.96,128.05 L167.30,128.05 L167.64,128.05 L167.98,128.05 L168.32,128.05 L168.66,128.05 L169.00,128.03 L169.34,128.01 L169.68,127.99 L170.02,127.95 L170.36,127.91 L170.70,127.87 L171.04,127.81 L171.38,127.75 L171.72,127.69 L172.06,127.62 L172.40,127.54 L172.74,127.46 L173.08,127.38 L173.42,127.29 L173.76,127.19 L174.10,127.10 L174.45,127.00 L174.79,126.89 L175.13,126.78 L175.47,126.66 L175.81,126.49 L176.15,126.29 L176.49,126.06 L176.83,125.80 L177.17,125.52 L177.51,125.22 L177.85,124.89 L178.19,124.56 L178.53,124.21 L178.87,123.85 L179.21,123.48 L179.55,123.11 L179.89,122.73 L180.23,122.31 L180.57,121.86 L180.91,121.37 L181.25,120.86 L181.59,120.33 L181.93,119.79 L182.27,119.24 L182.61,118.69 L182.95,118.13 L183.29,117.57 L183.63,117.01 L183.98,116.44 L184.32,115.86 L184.66,115.28 L185.00,114.68 L185.34,114.07 L185.68,113.45 L186.02,112.81 L186.36,112.16 L186.70,111.49 L187.04,110.80 L187.38,110.09 L187.72,109.36 L188.06,108.61 L188.40,107.83 L188.74,107.02 L189.08,106.12 L189.42,105.14 L189.76,104.11 L190.10,103.08 L190.44,102.07 L190.78,101.10 L191.12,100.14 L191.46,99.17 L191.80,98.16 L192.14,97.11 L192.48,95.98 L192.82,94.76 L193.16,93.40 L193.50,91.73 L193.85,89.85 L194.19,87.97 L194.53,86.29 L194.87,84.74 L195.21,83.18 L195.55,81.64 L195.89,80.15 L196.23,78.77 L196.57,77.53 L196.91,76.47 L197.25,75.63 L197.59,74.99 L197.93,74.38 L198.27,73.81 L198.61,73.28 L198.95,72.81 L199.29,72.40 L199.63,72.15 L199.97,71.89 L200.31,71.92 L200.65,71.81 L200.99,72.08 L201.33,72.03 L201.67,72.41 L202.01,72.51 L202.35,73.55 L202.69,74.27 L203.03,75.60 L203.38,75.97 L203.72,76.88 L204.06,76.84 L204.40,77.68 L204.74,77.59 L205.08,78.38 L205.42,78.19 L205.76,78.97 L206.10,78.79 L206.44,79.53 L206.78,79.35 L207.12,80.13 L207.46,79.87 L207.80,80.64 L208.14,80.40 L208.48,81.15 L208.82,80.89 L209.16,81.59 L209.50,81.31 L209.84,82.02 L210.18,81.63 L210.52,82.30 L210.86,81.94 L211.20,82.53 L211.54,82.17 L211.88,82.74 L212.22,82.40 L212.56,82.97 L212.90,82.63 L213.25,83.21 L213.59,82.77 L213.93,83.36 L214.27,82.94 L214.61,83.43 L214.95,83.02 L215.29,83.47 L215.63,83.03 L215.97,83.52 L216.31,82.97 L216.65,83.45 L216.99,82.98 L217.33,83.47 L217.67,82.92 L218.01,83.39 L218.35,82.88 L218.69,83.33 L219.03,82.82 L219.37,83.29 L219.71,82.75 L220.05,83.23 L220.39,82.71 L220.73,83.14 L221.07,82.56 L221.41,83.02 L221.75,82.51 L222.09,82.96 L222.43,82.40 L222.78,82.82 L223.12,82.18 L223.46,82.53 L223.80,81.88 L224.14,82.21 L224.48,81.58 L224.82,81.91 L225.16,81.31 L225.50,81.65 L225.84,81.04 L226.18,81.39 L226.52,80.85 L226.86,81.25 L227.20,80.70 L227.54,81.25 L227.88,80.73 L228.22,81.28 L228.56,80.76 L228.90,81.30 L229.24,80.89 L229.58,81.41 L229.92,80.97 L230.26,81.46 L230.60,81.02 L230.94,81.62 L231.28,81.14 L231.62,81.67 L231.96,81.19 L232.30,81.74 L232.65,81.24 L232.99,81.73 L233.33,81.25 L233.67,81.70 L234.01,81.23 L234.35,81.70 L234.69,81.26 L235.03,81.70 L235.37,81.20 L235.71,81.68 L236.05,81.18 L236.39,81.70 L236.73,81.18 L237.07,81.70 L237.41,81.21 L237.75,81.63 L238.09,81.13 L238.43,81.67 L238.77,81.17 L239.11,81.64 L239.45,81.15 L239.79,81.57 L240.13,81.13 L240.47,81.56 L240.81,81.09 L241.15,81.59 L241.49,81.06 L241.83,81.51 L242.17,81.05 L242.52,81.48 L242.86,81.04 L243.20,81.48 L243.54,80.98 L243.88,81.45 L244.22,80.97 L244.56,81.40 L244.90,80.91 L245.24,81.38 L245.58,80.90 L245.92,81.34 L246.26,80.84 L246.60,81.27 L246.94,80.79 L247.28,81.24 L247.62,80.71 L247.96,81.19 L248.30,80.64 L248.64,81.06 L248.98,80.55 L249.32,81.04 L249.66,80.47 L250.00,80.93 L250.34,80.42 L250.68,80.92 L251.02,80.40 L251.36,80.84 L251.70,80.32 L252.05,80.78 L252.39,80.26 L252.73,80.77 L253.07,80.23 L253.41,80.73 L253.75,80.23 L254.09,80.69 L254.43,80.24 L254.77,80.73 L255.11,80.21 L255.45,80.74 L255.79,80.35 L256.13,80.82 L256.47,80.42 L256.81,80.99 L257.15,80.55 L257.49,81.07 L257.83,80.63 L258.17,81.19 L258.51,80.73 L258.85,81.18 L259.19,80.73 L259.53,81.21 L259.87,80.74 L260.21,81.23 L260.55,80.71 L260.89,81.18 L261.23,80.71 L261.57,81.22 L261.92,80.67 L262.26,81.15 L262.60,80.67 L262.94,81.14 L263.28,80.67 L263.62,81.17 L263.96,80.63 L264.30,81.15 L264.64,80.68 L264.98,81.14 L265.32,80.65 L265.66,81.13 L266.00,80.64 L266.34,81.08 L266.68,80.58 L267.02,81.05 L267.36,80.57 L267.70,81.07 L268.04,80.54 L268.38,81.07 L268.72,80.55 L269.06,81.00 L269.40,80.55 L269.74,81.00 L270.08,80.55 L270.42,81.01 L270.76,80.53 L271.10,80.96 L271.45,80.46 L271.79,81.00 L272.13,80.50 L272.47,80.96 L272.81,80.46 L273.15,80.97 L273.49,80.49 L273.83,80.96 L274.17,80.45 L274.51,80.94 L274.85,80.47 L275.19,81.01 L275.53,80.56 L275.87,81.08 L276.21,80.63 L276.55,81.12 L276.89,80.67 L277.23,81.20 L277.57,80.75 L277.91,81.35 L278.25,80.93 L278.59,81.45 L278.93,81.09 L279.27,81.64 L279.61,81.26 L279.95,81.96 L280.29,81.92 L280.63,83.10 L280.97,83.37 L281.32,84.48 L281.66,84.89 L282.00,85.78 L282.34,86.31 L282.68,87.09 L283.02,87.78 L283.36,88.51 L283.70,89.26 L284.04,90.03 L284.38,90.82 L284.72,91.63 L285.06,92.47 L285.40,93.34 L285.74,94.23 L286.08,95.15 L286.42,96.09 L286.76,97.07 L287.10,98.07 L287.44,99.10 L287.78,100.17 L288.12,101.27 L288.46,102.42 L288.80,103.61 L289.14,104.85 L289.48,106.14 L289.82,107.48 L290.16,108.88 L290.50,110.33 L290.85,112.09 L291.19,114.02 L291.53,115.63 L291.87,116.99 L292.21,118.23 L292.55,119.37 L292.89,120.44 L293.23,121.48 L293.57,122.51 L293.91,123.56 L294.25,124.66 L294.59,125.84 L294.93,127.12 L295.27,128.55 L295.61,130.19 L295.95,132.01 L296.29,133.97 L296.63,136.00 L296.97,138.05 L297.31,140.06 L297.65,141.97 L297.99,143.72 L298.33,145.26 L298.67,146.62 L299.01,147.86 L299.35,149.03 L299.69,150.12 L300.03,151.18 L300.37,152.18 L300.72,153.13 L301.06,154.05 L301.40,154.94 L301.74,155.80 L302.08,156.66 L302.42,157.52 L302.76,158.39 L303.10,159.28 L303.44,160.19 L303.78,161.16 L304.12,162.18 L304.46,163.22 L304.80,164.26 L305.14,165.26 L305.48,166.19 L305.82,167.04 L306.16,167.77 L306.50,168.46 L306.84,169.12 L307.18,169.80 L307.52,170.32 L307.86,171.01 L308.20,171.35 L308.54,172.02 L308.88,172.14 L309.22,172.78 L309.56,172.62 L309.90,173.24 L310.24,172.99 L310.59,173.61 L310.93,173.24 L311.27,173.94 L311.61,173.60 L311.95,174.24 L312.29,173.88 L312.63,174.55 L312.97,174.16 L313.31,174.77 L313.65,174.34 L313.99,174.84 L314.33,174.39 L314.67,174.84 L315.01,174.24 L315.35,174.65 L315.69,174.03 L316.03,174.37 L316.37,173.75 L316.71,174.08 L317.05,173.44 L317.39,173.75 L317.73,173.14 L318.07,173.53 L318.41,172.88 L318.75,173.24 L319.09,172.58 L319.43,172.93 L319.77,172.27 L320.12,172.65 L320.46,172.02 L320.80,172.43 L321.14,171.89 L321.48,172.31 L321.82,171.82 L322.16,172.34 L322.50,171.90 L322.84,172.38 L323.18,171.88 L323.52,172.44 L323.86,171.93 L324.20,172.52 L324.54,172.04 L324.88,172.54 L325.22,172.14 L325.56,172.67 L325.90,172.30 L326.24,172.97 L326.58,172.66 L326.92,173.31 L327.26,172.97 L327.60,173.67 L327.94,173.35 L328.28,173.93 L328.62,173.57 L328.96,174.17 L329.30,173.76 L329.64,174.30 L329.99,173.93 L330.33,174.49 L330.67,174.01 L331.01,174.61 L331.35,174.13 L331.69,174.69 L332.03,174.22 L332.37,174.76 L332.71,174.31 L333.05,174.83 L333.39,174.39 L333.73,174.92 L334.07,174.43 L334.41,174.97 L334.75,174.46 L335.09,174.96 L335.43,174.52 L335.77,174.97 L336.11,174.52 L336.45,175.06 L336.79,174.57 L337.13,175.06 L337.47,174.55 L337.81,175.08 L338.15,174.58 L338.49,175.13 L338.83,174.63 L339.17,175.15 L339.52,174.69 L339.86,175.16 L340.20,174.66 L340.54,175.16 L340.88,174.73 L341.22,175.17 L341.56,174.75 L341.90,175.20 L342.24,174.72 L342.58,175.24 L342.92,174.76 L343.26,175.25 L343.60,174.80 L343.94,175.29 L344.28,174.80 L344.62,175.30 L344.96,174.85 L345.30,175.36 L345.64,174.85 L345.98,175.38 L346.32,174.95 L346.66,175.48 L347.00,175.06 L347.34,175.58 L347.68,175.11 L348.02,175.67 L348.36,175.25 L348.70,175.75 L349.04,175.33 L349.39,175.88 L349.73,175.38 L350.07,175.86 L350.41,175.40 L350.75,175.88 L351.09,175.35 L351.43,175.86 L351.77,175.36 L352.11,175.87 L352.45,175.37 L352.79,175.85 L353.13,175.32 L353.47,175.78 L353.81,175.27 L354.15,175.75 L354.49,175.29 L354.83,175.72 L355.17,175.22 L355.51,175.68 L355.85,175.20 L356.19,175.66 L356.53,175.17 L356.87,175.62 L357.21,175.12 L357.55,175.65 L357.89,175.13 L358.23,175.58 L358.57,175.08 L358.92,175.58 L359.26,175.09 L359.60,175.55 L359.94,175.00 L360.28,175.52 L360.62,175.00 L360.96,175.49 L361.30,174.96 L361.64,175.42 L361.98,174.95 L362.32,175.42 L362.66,174.91 L363.00,175.42 L363.34,174.88 L363.68,175.36 L364.02,174.89 L364.36,175.39 L364.70,174.88 L365.04,175.36 L365.38,174.86 L365.72,175.39 L366.06,174.93 L366.40,175.42 L366.74,174.96 L367.08,175.44 L367.42,174.97 L367.76,175.52 L368.10,175.04 L368.44,175.52 L368.79,175.09 L369.13,175.59 L369.47,175.14 L369.81,175.64 L370.15,175.18 L370.49,175.70 L370.83,175.29 L371.17,175.79 L371.51,175.29 L371.85,175.81 L372.19,175.39 L372.53,175.88 L372.87,175.38 L373.21,175.91 L373.55,175.47 L373.89,175.98 L374.23,175.52 L374.57,176.06 L374.91,175.61 L375.25,176.14 L375.59,175.67 L375.93,176.17 L376.27,175.74 L376.61,176.29 L376.95,175.77 L377.29,176.31 L377.63,175.83 L377.97,176.33 L378.31,175.88 L378.66,176.40 L379.00,175.91 L379.34,176.42 L379.68,175.87 L380.02,176.40 L380.36,175.90 L380.70,176.36 L381.04,175.91 L381.38,176.40 L381.72,175.90 L382.06,176.41 L382.40,175.91 L382.74,176.41 L383.08,175.87 L383.42,176.40 L383.76,175.91 L384.10,176.36 L384.44,175.88 L384.78,176.24 L385.12,175.68 L385.46,176.07 L385.80,175.43 L386.14,175.78 L386.48,175.16 L386.82,175.49 L387.16,174.76 L387.50,175.08 L387.84,174.42 L388.19,174.74 L388.53,174.08 L388.87,174.27 L389.21,173.62 L389.55,173.67 L389.89,173.06 L390.23,173.02 L390.57,172.48 L390.91,172.26 L391.25,171.78 L391.59,171.43 L391.93,171.00 L392.27,170.57 L392.61,170.09 L392.95,169.55 L393.29,168.94 L393.63,168.28 L393.97,167.58 L394.31,166.84 L394.65,166.08 L394.99,165.30 L395.33,164.51 L395.67,163.73 L396.01,162.95 L396.35,162.20 L396.69,161.47 L397.03,160.74 L397.37,159.99 L397.71,159.24 L398.06,158.47 L398.40,157.70 L398.74,156.92 L399.08,156.15 L399.42,155.38 L399.76,154.60 L400.10,153.84 L400.44,153.09 L400.78,152.34 L401.12,151.61 L401.46,150.90 L401.80,150.20 L402.14,149.53 L402.48,148.87 L402.82,148.22 L403.16,147.58 L403.50,146.93 L403.84,146.29 L404.18,145.66 L404.52,145.03 L404.86,144.41 L405.20,143.79 L405.54,143.18 L405.88,142.58 L406.22,141.99 L406.56,141.41 L406.90,140.84 L407.24,140.28 L407.59,139.73 L407.93,139.20 L408.27,138.67 L408.61,138.16 L408.95,137.66 L409.29,137.18 L409.63,136.71 L409.97,136.25 L410.31,135.80 L410.65,135.35 L410.99,134.90 L411.33,134.45 L411.67,134.01 L412.01,133.58 L412.35,133.15 L412.69,132.74 L413.03,132.33 L413.37,131.94 L413.71,131.56 L414.05,131.19 L414.39,130.84 L414.73,130.51 L415.07,130.20 L415.41,129.91 L415.75,129.65 L416.09,129.41 L416.43,129.19 L416.77,128.99 L417.11,128.78 L417.46,128.58 L417.80,128.38 L418.14,128.18 L418.48,127.99 L418.82,127.81 L419.16,127.63 L419.50,127.46 L419.84,127.30 L420.18,127.15 L420.52,127.02 L420.86,126.90 L421.20,126.79 L421.54,126.70 L421.88,126.63 L422.22,126.58 L422.56,126.54 L422.90,126.53 L423.24,126.54 L423.58,126.55 L423.92,126.58 L424.26,126.61 L424.60,126.64 L424.94,126.68 L425.28,126.72 L425.62,126.76 L425.96,126.80 L426.30,126.84 L426.64,126.88 L426.99,126.93 L427.33,126.98 L427.67,127.04 L428.01,127.10 L428.35,127.16 L428.69,127.22 L429.03,127.29 L429.37,127.36 L429.71,127.43 L430.05,127.49 L430.39,127.56 L430.73,127.63 L431.07,127.70 L431.41,127.76 L431.75,127.83 L432.09,127.89 L432.43,127.95 L432.77,128.01 L433.11,128.06 L433.45,128.11 L433.79,128.15 L434.13,128.19 L434.47,128.23 L434.81,128.25 L435.15,128.28 L435.49,128.29 L435.83,128.30 L436.17,128.30 L436.51,128.30 L436.86,128.30 L437.20,128.29 L437.54,128.28 L437.88,128.27 L438.22,128.26 L438.56,128.24 L438.90,128.23 L439.24,128.21 L439.58,128.20 L439.92,128.18 L440.26,128.17 L440.60,128.15 L440.94,128.13 L441.28,128.12 L441.62,128.10 L441.96,128.09 L442.30,128.08 L442.64,128.07 L442.98,128.06 L443.32,128.06 L443.66,128.05 L444.00,128.05 L444.34,128.05 L444.68,128.05 L445.02,128.05 L445.36,128.05 L445.70,128.05 L446.04,128.05 L446.38,128.05 L446.73,128.05 L447.07,128.05 L447.41,128.05 L447.75,128.05 L448.09,128.05 L448.43,128.05 L448.77,128.05 L449.11,128.05 L449.45,128.05 L449.79,128.05 L450.13,128.05 L450.47,128.05 L450.81,128.05 L451.15,128.05 L451.49,128.05 L451.83,128.05 L452.17,128.05 L452.51,128.05 L452.85,128.05 L453.19,128.05 L453.53,128.05 L453.87,128.05 L454.21,128.05 L454.55,128.05 L454.89,128.05 L455.23,128.05 L455.57,128.05 L455.91,128.05 L456.26,128.05 L456.60,128.05 L456.94,128.05 L457.28,128.05 L457.62,128.05 L457.96,128.05 L458.30,128.05 L458.64,128.05 L458.98,128.05 L459.32,128.05 L459.66,128.05 L460.00,128.05 L460.34,128.05 L460.68,128.05 L461.02,128.05 L461.36,128.05 L461.70,128.05 L462.04,128.05 L462.38,128.05 L462.72,128.05 L463.06,128.05 L463.40,128.05 L463.74,128.05 L464.08,128.05 L464.42,128.05 L464.76,128.05 L465.10,128.05 L465.44,128.05 L465.78,128.05 L466.13,128.05 L466.47,128.05 L466.81,128.05 L467.15,128.05 L467.49,128.05 L467.83,128.05 L468.17,128.05 L468.51,128.05 L468.85,128.05 L469.19,128.05 L469.53,128.05 L469.87,128.05 L470.21,128.05 L470.55,128.05 L470.89,128.05 L471.23,128.05 L471.57,128.05 L471.91,128.05 L472.25,128.05 L472.59,128.05 L472.93,128.05 L473.27,128.05 L473.61,128.05 L473.95,128.05 L474.29,128.05 L474.63,128.05 L474.97,128.05 L475.31,128.05 L475.66,128.05 L476.00,128.05 L476.34,128.05 L476.68,128.05 L477.02,128.05 L477.36,128.05 L477.70,128.05 L478.04,128.05 L478.38,128.05 L478.72,128.05 L479.06,128.05 L479.40,128.05 L479.74,128.05 L480.08,128.05 L480.42,128.05 L480.76,128.05 L481.10,128.05 L481.44,128.05 L481.78,128.05 L482.12,128.05 L482.46,128.05 L482.80,128.05 L483.14,128.05 L483.48,128.05 L483.82,128.05 L484.16,128.05 L484.50,128.05 L484.84,128.05 L485.18,128.05 L485.53,128.05 L485.87,128.05 L486.21,128.05 L486.55,128.05 L486.89,128.05 L487.23,128.05 L487.57,128.05 L487.91,128.05 L488.25,128.05 L488.59,128.05 L488.93,128.05 L489.27,128.05 L489.61,128.05 L489.95,128.05 L490.29,128.05 L490.63,128.05 L490.97,128.05 L491.31,128.05 L491.65,128.05 L491.99,128.05 L492.33,128.05 L492.67,128.05 L493.01,128.05 L493.35,128.05 L493.69,128.05 L494.03,128.05 L494.37,128.05 L494.71,128.05 L495.06,128.05 L495.40,128.05 L495.74,128.05 L496.08,128.05 L496.42,128.05 L496.76,128.05 L497.10,128.05 L497.44,128.05 L497.78,128.05 L498.12,128.05 L498.46,128.05 L498.80,128.05 L499.14,128.05 L499.48,128.05 L499.82,128.05 L500.16,128.05 L500.50,128.05 L500.84,128.05 L501.18,128.05 L501.52,128.05 L501.86,128.05 L502.20,128.05 L502.54,128.05 L502.88,128.05 L503.22,128.05 L503.56,128.05 L503.90,128.05 L504.24,128.05 L504.58,128.05 L504.93,128.05 L505.27,128.05 L505.61,128.05 L505.95,128.05 L506.29,128.05 L506.63,128.05 L506.97,128.05 L507.31,128.05 L507.65,128.05 L507.99,128.05 L508.33,128.05 L508.67,128.05 L509.01,128.05 L509.35,128.05 L509.69,128.05 L510.03,128.05 L510.37,128.05 L510.71,128.05 L511.05,128.05 L511.39,128.05 L511.73,128.05 L512.07,128.05 L512.41,128.05 L512.75,128.05 L513.09,128.05 L513.43,128.05 L513.77,128.05 L514.11,128.05 L514.45,128.05 L514.80,128.05 L515.14,128.05 L515.48,128.05 L515.82,128.05 L516.16,128.05 L516.50,128.05 L516.84,128.05 L517.18,128.05 L517.52,128.05 L517.86,128.05 L518.20,128.05 L518.54,128.05 L518.88,128.05 L519.22,128.05 L519.56,128.05 L519.90,128.05 L520.24,128.05 L520.58,128.05 L520.92,128.05 L521.26,128.05 L521.60,128.05 L521.94,128.05 L522.28,128.05 L522.62,128.05 L522.96,128.05 L523.30,128.05 L523.64,128.05 L523.98,128.05 L524.33,128.05 L524.67,128.05 L525.01,128.05 L525.35,128.05 L525.69,128.05 L526.03,128.05 L526.37,128.05 L526.71,128.05 L527.05,128.05 L527.39,128.05 L527.73,128.05 L528.07,128.05 L528.41,128.05 L528.75,128.05 L529.09,128.05 L529.43,128.05 L529.77,128.05 L530.11,128.05 L530.45,128.05 L530.79,128.05 L531.13,128.05 L531.47,128.05 L531.81,128.05 L532.15,128.05 L532.49,128.05 L532.83,128.05 L533.17,128.05 L533.51,128.05 L533.85,128.05 L534.20,128.05 L534.54,128.05 L534.88,128.05 L535.22,128.05 L535.56,128.05 L535.90,128.05 L536.24,128.05 L536.58,128.05 L536.92,128.05 L537.26,128.05 L537.60,128.05 L537.94,128.05 L538.28,128.05 L538.62,128.05 L538.96,128.05 L539.30,128.05 L539.64,128.05 L539.98,128.05 L540.32,128.05 L540.66,128.05 L541.00,128.05 L541.34,128.05 L541.68,128.05 L542.02,128.05 L542.36,128.05 L542.70,128.05 L543.04,128.05 L543.38,128.05 L543.40,128.05" stroke="#000" stroke-dasharray="3 2.7"/>
<path d="M52.60,128.05 L52.83,128.05 L53.05,128.05 L53.28,128.05 L53.51,128.05 L53.73,128.05 L53.96,128.05 L54.19,128.05 L54.42,128.05 L54.64,128.05 L54.87,128.05 L55.10,128.05 L55.32,128.05 L55.55,128.05 L55.78,128.05 L56.00,128.05 L56.23,128.05 L56.46,128.05 L56.68,128.05 L56.91,128.05 L57.14,128.05 L57.36,128.05 L57.59,128.05 L57.82,128.05 L58.05,128.05 L58.27,128.05 L58.50,128.05 L58.73,128.05 L58.95,128.05 L59.18,128.05 L59.41,128.05 L59.63,128.05 L59.86,128.05 L60.09,128.05 L60.31,128.05 L60.54,128.05 L60.77,128.05 L61.00,128.05 L61.22,128.05 L61.45,128.05 L61.68,128.05 L61.90,128.05 L62.13,128.05 L62.36,128.05 L62.58,128.05 L62.81,128.05 L63.04,128.05 L63.26,128.05 L63.49,128.05 L63.72,128.05 L63.95,128.05 L64.17,128.05 L64.40,128.05 L64.63,128.05 L64.85,128.05 L65.08,128.05 L65.31,128.05 L65.53,128.05 L65.76,128.05 L65.99,128.05 L66.21,128.05 L66.44,128.05 L66.67,128.05 L66.89,128.05 L67.12,128.05 L67.35,128.05 L67.58,128.05 L67.80,128.05 L68.03,128.05 L68.26,128.05 L68.48,128.05 L68.71,128.05 L68.94,128.05 L69.16,128.05 L69.39,128.05 L69.62,128.05 L69.84,128.05 L70.07,128.05 L70.30,128.05 L70.53,128.05 L70.75,128.05 L70.98,128.05 L71.21,128.05 L71.43,128.05 L71.66,128.05 L71.89,128.05 L72.11,128.05 L72.34,128.05 L72.57,128.05 L72.79,128.05 L73.02,128.05 L73.25,128.05 L73.47,128.05 L73.70,128.05 L73.93,128.05 L74.16,128.05 L74.38,128.05 L74.61,128.05 L74.84,128.05 L75.06,128.05 L75.29,128.05 L75.52,128.05 L75.74,128.05 L75.97,128.05 L76.20,128.05 L76.42,128.05 L76.65,128.05 L76.88,128.05 L77.11,128.05 L77.33,128.05 L77.56,128.05 L77.79,128.05 L78.01,128.05 L78.24,128.05 L78.47,128.05 L78.69,128.05 L78.92,128.05 L79.15,128.05 L79.37,128.05 L79.60,128.05 L79.83,128.05 L80.05,128.05 L80.28,128.05 L80.51,128.05 L80.74,128.05 L80.96,128.05 L81.19,128.05 L81.42,128.05 L81.64,128.05 L81.87,128.05 L82.10,128.05 L82.32,128.05 L82.55,128.05 L82.78,128.05 L83.00,128.05 L83.23,128.05 L83.46,128.05 L83.69,128.05 L83.91,128.05 L84.14,128.05 L84.37,128.05 L84.59,128.05 L84.82,128.05 L85.05,128.05 L85.27,128.05 L85.50,128.05 L85.73,128.05 L85.95,128.05 L86.18,128.05 L86.41,128.05 L86.64,128.05 L86.86,128.05 L87.09,128.05 L87.32,128.05 L87.54,128.05 L87.77,128.05 L88.00,128.05 L88.22,128.05 L88.45,128.05 L88.68,128.05 L88.90,128.05 L89.13,128.05 L89.36,128.05 L89.58,128.05 L89.81,128.05 L90.04,128.05 L90.27,128.05 L90.49,128.05 L90.72,128.05 L90.95,128.05 L91.17,128.05 L91.40,128.05 L91.63,128.05 L91.85,128.05 L92.08,128.05 L92.31,128.05 L92.53,128.05 L92.76,128.05 L92.99,128.05 L93.22,128.05 L93.44,128.05 L93.67,128.05 L93.90,128.05 L94.12,128.05 L94.35,128.05 L94.58,128.05 L94.80,128.05 L95.03,128.05 L95.26,128.05 L95.48,128.05 L95.71,128.05 L95.94,128.05 L96.16,128.05 L96.39,128.05 L96.62,128.05 L96.85,128.05 L97.07,128.05 L97.30,128.05 L97.53,128.05 L97.75,128.05 L97.98,128.05 L98.21,128.05 L98.43,128.05 L98.66,128.05 L98.89,128.05 L99.11,128.05 L99.34,128.05 L99.57,128.05 L99.80,128.05 L100.02,128.05 L100.25,128.05 L100.48,128.05 L100.70,128.05 L100.93,128.05 L101.16,128.05 L101.38,128.05 L101.61,128.05 L101.84,128.05 L102.06,128.05 L102.29,128.05 L102.52,128.05 L102.74,128.05 L102.97,128.05 L103.20,128.05 L103.43,128.05 L103.65,128.05 L103.88,128.05 L104.11,128.05 L104.33,128.05 L104.56,128.05 L104.79,128.05 L105.01,128.05 L105.24,128.05 L105.47,128.05 L105.69,128.05 L105.92,128.05 L106.15,128.05 L106.38,128.05 L106.60,128.05 L106.83,128.05 L107.06,128.05 L107.28,128.05 L107.51,128.05 L107.74,128.05 L107.96,128.05 L108.19,128.05 L108.42,128.05 L108.64,128.05 L108.87,128.05 L109.10,128.05 L109.33,128.05 L109.55,128.05 L109.78,128.05 L110.01,128.05 L110.23,128.05 L110.46,128.05 L110.69,128.05 L110.91,128.05 L111.14,128.05 L111.37,128.05 L111.59,128.05 L111.82,128.05 L112.05,128.05 L112.27,128.05 L112.50,128.05 L112.73,128.05 L112.96,128.05 L113.18,128.05 L113.41,128.05 L113.64,128.05 L113.86,128.05 L114.09,128.05 L114.32,128.05 L114.54,128.05 L114.77,128.05 L115.00,128.05 L115.22,128.05 L115.45,128.05 L115.68,128.05 L115.91,128.05 L116.13,128.05 L116.36,128.05 L116.59,128.05 L116.81,128.05 L117.04,128.05 L117.27,128.05 L117.49,128.05 L117.72,128.05 L117.95,128.05 L118.17,128.05 L118.40,128.05 L118.63,128.05 L118.85,128.05 L119.08,128.05 L119.31,128.05 L119.54,128.05 L119.76,128.05 L119.99,128.05 L120.22,128.05 L120.44,128.05 L120.67,128.05 L120.90,128.05 L121.12,128.05 L121.35,128.05 L121.58,128.05 L121.80,128.05 L122.03,128.05 L122.26,128.05 L122.49,128.05 L122.71,128.05 L122.94,128.05 L123.17,128.05 L123.39,128.05 L123.62,128.05 L123.85,128.05 L124.07,128.05 L124.30,128.05 L124.53,128.05 L124.75,128.05 L124.98,128.05 L125.21,128.05 L125.43,128.05 L125.66,128.05 L125.89,128.05 L126.12,128.05 L126.34,128.05 L126.57,128.05 L126.80,128.05 L127.02,128.05 L127.25,128.05 L127.48,128.05 L127.70,128.05 L127.93,128.05 L128.16,128.05 L128.38,128.05 L128.61,128.05 L128.84,128.05 L129.07,128.05 L129.29,128.05 L129.52,128.05 L129.75,128.05 L129.97,128.05 L130.20,128.05 L130.43,128.05 L130.65,128.05 L130.88,128.05 L131.11,128.05 L131.33,128.05 L131.56,128.05 L131.79,128.05 L132.02,128.05 L132.24,128.05 L132.47,128.05 L132.70,128.05 L132.92,128.05 L133.15,128.05 L133.38,128.05 L133.60,128.05 L133.83,128.05 L134.06,128.05 L134.28,128.05 L134.51,128.05 L134.74,128.05 L134.96,128.05 L135.19,128.05 L135.42,128.05 L135.65,128.05 L135.87,128.05 L136.10,128.05 L136.33,128.05 L136.55,128.05 L136.78,128.05 L137.01,128.05 L137.23,128.05 L137.46,128.05 L137.69,128.05 L137.91,128.05 L138.14,128.05 L138.37,128.05 L138.60,128.05 L138.82,128.05 L139.05,128.05 L139.28,128.05 L139.50,128.05 L139.73,128.05 L139.96,128.05 L140.18,128.05 L140.41,128.05 L140.64,128.05 L140.86,128.05 L141.09,128.05 L141.32,128.05 L141.54,128.05 L141.77,128.05 L142.00,128.05 L142.23,128.05 L142.45,128.05 L142.68,128.05 L142.91,128.05 L143.13,128.05 L143.36,128.05 L143.59,128.05 L143.81,128.05 L144.04,128.05 L144.27,128.05 L144.49,128.05 L144.72,128.05 L144.95,128.05 L145.18,128.05 L145.40,128.05 L145.63,128.05 L145.86,128.05 L146.08,128.05 L146.31,128.05 L146.54,128.05 L146.76,128.05 L146.99,128.05 L147.22,128.05 L147.44,128.05 L147.67,128.05 L147.90,128.05 L148.12,128.05 L148.35,128.05 L148.58,128.05 L148.81,128.05 L149.03,128.05 L149.26,128.05 L149.49,128.05 L149.71,128.05 L149.94,128.05 L150.17,128.05 L150.39,128.05 L150.62,128.05 L150.85,128.05 L151.07,128.05 L151.30,128.05 L151.53,128.05 L151.76,128.05 L151.98,128.05 L152.21,128.05 L152.44,128.05 L152.66,128.05 L152.89,128.05 L153.12,128.05 L153.34,128.05 L153.57,128.05 L153.80,128.05 L154.02,128.05 L154.25,128.05 L154.48,128.05 L154.71,128.05 L154.93,128.05 L155.16,128.05 L155.39,128.05 L155.61,128.05 L155.84,128.05 L156.07,128.05 L156.29,128.05 L156.52,128.05 L156.75,128.05 L156.97,128.05 L157.20,128.05 L157.43,128.05 L157.65,128.05 L157.88,128.05 L158.11,128.05 L158.34,128.05 L158.56,128.05 L158.79,128.05 L159.02,128.05 L159.24,128.05 L159.47,128.05 L159.70,128.05 L159.92,128.05 L160.15,128.05 L160.38,128.05 L160.60,128.05 L160.83,128.05 L161.06,128.05 L161.29,128.05 L161.51,128.05 L161.74,128.05 L161.97,128.05 L162.19,128.05 L162.42,128.05 L162.65,128.05 L162.87,128.05 L163.10,128.05 L163.33,128.05 L163.55,128.05 L163.78,128.05 L164.01,128.05 L164.23,128.05 L164.46,128.05 L164.69,128.05 L164.92,128.05 L165.14,128.05 L165.37,128.05 L165.60,128.05 L165.82,128.05 L166.05,128.05 L166.28,128.05 L166.50,128.05 L166.73,128.05 L166.96,128.05 L167.18,128.05 L167.41,128.05 L167.64,128.05 L167.87,128.05 L168.09,128.05 L168.32,128.05 L168.55,128.05 L168.77,128.05 L169.00,128.05 L169.23,128.05 L169.45,128.05 L169.68,128.05 L169.91,128.05 L170.13,128.05 L170.36,128.05 L170.59,128.05 L170.81,128.05 L171.04,128.05 L171.27,128.05 L171.50,128.05 L171.72,128.05 L171.95,128.05 L172.18,128.05 L172.40,128.05 L172.63,128.05 L172.86,128.05 L173.08,128.05 L173.31,128.04 L173.54,128.03 L173.76,128.02 L173.99,128.00 L174.22,127.98 L174.45,127.96 L174.67,127.93 L174.90,127.90 L175.13,127.88 L175.35,127.84 L175.58,127.81 L175.81,127.78 L176.03,127.74 L176.26,127.69 L176.49,127.63 L176.71,127.57 L176.94,127.49 L177.17,127.41 L177.40,127.33 L177.62,127.23 L177.85,127.13 L178.08,127.02 L178.30,126.91 L178.53,126.79 L178.76,126.66 L178.98,126.53 L179.21,126.38 L179.44,126.20 L179.66,125.99 L179.89,125.75 L180.12,125.49 L180.34,125.21 L180.57,124.92 L180.80,124.60 L181.03,124.28 L181.25,123.94 L181.48,123.60 L181.71,123.26 L181.93,122.91 L182.16,122.56 L182.39,122.18 L182.61,121.78 L182.84,121.36 L183.07,120.92 L183.29,120.47 L183.52,120.00 L183.75,119.52 L183.98,119.04 L184.20,118.55 L184.43,118.07 L184.66,117.58 L184.88,117.11 L185.11,116.64 L185.34,116.18 L185.56,115.73 L185.79,115.27 L186.02,114.82 L186.24,114.37 L186.47,113.92 L186.70,113.47 L186.92,113.02 L187.15,112.57 L187.38,112.11 L187.61,111.66 L187.83,111.19 L188.06,110.73 L188.29,110.26 L188.51,109.78 L188.74,109.30 L188.97,108.81 L189.19,108.32 L189.42,107.82 L189.65,107.31 L189.87,106.80 L190.10,106.28 L190.33,105.76 L190.56,105.24 L190.78,104.71 L191.01,104.18 L191.24,103.64 L191.46,103.10 L191.69,102.57 L191.92,102.03 L192.14,101.49 L192.37,100.95 L192.60,100.42 L192.82,99.88 L193.05,99.35 L193.28,98.81 L193.50,98.27 L193.73,97.72 L193.96,97.16 L194.19,96.60 L194.41,96.03 L194.64,95.44 L194.87,94.85 L195.09,94.23 L195.32,93.60 L195.55,92.95 L195.77,92.30 L196.00,91.63 L196.23,90.96 L196.45,90.29 L196.68,89.61 L196.91,88.94 L197.14,88.26 L197.36,87.60 L197.59,86.94 L197.82,86.29 L198.04,85.64 L198.27,84.97 L198.50,84.31 L198.72,83.64 L198.95,82.98 L199.18,82.33 L199.40,81.70 L199.63,81.09 L199.86,80.51 L200.09,79.96" stroke="#0000ff" stroke-dasharray="11.6 2.8 5.8 2.8" stroke-dashoffset="0.00"/>
<path d="M200.09,79.96 L200.31,79.45 L200.54,78.96 L200.77,78.48 L200.99,78.03 L201.22,77.59 L201.45,77.16 L201.67,76.73 L201.90,76.31 L202.13,75.89 L202.35,75.47 L202.58,75.05 L202.81,74.61 L203.03,74.17 L203.26,73.70 L203.49,73.23 L203.72,72.74 L203.94,72.24 L204.17,71.74 L204.40,71.24 L204.62,70.74 L204.85,70.26 L205.08,69.78 L205.30,69.33 L205.53,68.89 L205.76,68.48 L205.98,68.10 L206.21,67.75 L206.44,67.45 L206.67,67.17 L206.89,66.92 L207.12,66.68 L207.35,66.45 L207.57,66.23 L207.80,66.02 L208.03,65.83 L208.25,65.65 L208.48,65.48 L208.71,65.32 L208.93,65.17 L209.16,65.03 L209.39,64.89 L209.61,64.75 L209.84,64.61 L210.07,64.48 L210.30,64.36 L210.52,64.24 L210.75,64.15 L210.98,64.08 L211.20,64.03 L211.43,64.02 L211.66,64.02 L211.88,64.04 L212.11,64.07 L212.34,64.12 L212.56,64.17 L212.79,64.23 L213.02,64.30 L213.25,64.37 L213.47,64.46 L213.70,64.54 L213.93,64.63 L214.15,64.73 L214.38,64.83 L214.61,64.95 L214.83,65.11 L215.06,65.29 L215.29,65.50 L215.51,65.72 L215.74,65.96 L215.97,66.21 L216.19,66.48 L216.42,66.74 L216.65,67.02 L216.88,67.29 L217.10,67.56 L217.33,67.84 L217.56,68.13 L217.78,68.45 L218.01,68.78 L218.24,69.13 L218.46,69.48 L218.69,69.85 L218.92,70.23 L219.14,70.61 L219.37,70.99 L219.60,71.38 L219.83,71.76 L220.05,72.15 L220.28,72.53 L220.51,72.90 L220.73,73.27 L220.96,73.62 L221.19,73.96 L221.41,74.29 L221.64,74.60 L221.87,74.90 L222.09,75.18 L222.32,75.45 L222.55,75.72 L222.78,75.98 L223.00,76.24 L223.23,76.49 L223.46,76.73 L223.68,76.97 L223.91,77.21 L224.14,77.44 L224.36,77.67 L224.59,77.90 L224.82,78.13 L225.04,78.35 L225.27,78.57 L225.50,78.79 L225.72,79.01 L225.95,79.23 L226.18,79.45 L226.41,79.67 L226.63,79.89 L226.86,80.11 L227.09,80.33 L227.31,80.56 L227.54,80.79 L227.77,81.02 L227.99,81.25 L228.22,81.49 L228.45,81.73 L228.67,81.98 L228.90,82.25 L229.13,82.52 L229.36,82.81 L229.58,83.09 L229.81,83.39 L230.04,83.68 L230.26,83.97 L230.49,84.26 L230.72,84.55 L230.94,84.83 L231.17,85.10 L231.40,85.35 L231.62,85.60 L231.85,85.83 L232.08,86.04 L232.30,86.23 L232.53,86.40 L232.76,86.54 L232.99,86.67 L233.21,86.80 L233.44,86.93 L233.67,87.06 L233.89,87.18 L234.12,87.31 L234.35,87.43 L234.57,87.55 L234.80,87.67 L235.03,87.78 L235.25,87.90 L235.48,88.01 L235.71,88.11 L235.94,88.22 L236.16,88.32 L236.39,88.41 L236.62,88.51 L236.84,88.59 L237.07,88.68 L237.30,88.76 L237.52,88.84 L237.75,88.91 L237.98,88.97 L238.20,89.03 L238.43,89.09 L238.66,89.14 L238.88,89.19 L239.11,89.22 L239.34,89.26 L239.57,89.28 L239.79,89.30 L240.02,89.32 L240.25,89.32 L240.47,89.32 L240.70,89.32 L240.93,89.30 L241.15,89.27 L241.38,89.24 L241.61,89.20 L241.83,89.15 L242.06,89.10 L242.29,89.04 L242.52,88.98 L242.74,88.91 L242.97,88.83 L243.20,88.75 L243.42,88.67 L243.65,88.58 L243.88,88.49 L244.10,88.39 L244.33,88.29 L244.56,88.19 L244.78,88.09 L245.01,87.99 L245.24,87.88 L245.47,87.78 L245.69,87.67 L245.92,87.56 L246.15,87.46 L246.37,87.35 L246.60,87.25 L246.83,87.13 L247.05,87.00 L247.28,86.85 L247.51,86.70 L247.73,86.53 L247.96,86.36 L248.19,86.19 L248.41,86.01 L248.64,85.83 L248.87,85.64 L249.10,85.46 L249.32,85.28 L249.55,85.10 L249.78,84.93 L250.00,84.77 L250.23,84.61 L250.46,84.46 L250.68,84.33 L250.91,84.20 L251.14,84.08 L251.36,83.97 L251.59,83.86 L251.82,83.75 L252.05,83.64 L252.27,83.54 L252.50,83.44 L252.73,83.34 L252.95,83.24 L253.18,83.15 L253.41,83.06 L253.63,82.96 L253.86,82.87 L254.09,82.78 L254.31,82.69 L254.54,82.60 L254.77,82.51 L254.99,82.41 L255.22,82.32 L255.45,82.23 L255.68,82.13 L255.90,82.04 L256.13,81.94 L256.36,81.84 L256.58,81.73 L256.81,81.63 L257.04,81.53 L257.26,81.43 L257.49,81.32 L257.72,81.22 L257.94,81.11 L258.17,81.01 L258.40,80.91 L258.63,80.80 L258.85,80.70 L259.08,80.60 L259.31,80.50 L259.53,80.40 L259.76,80.30 L259.99,80.20 L260.21,80.11 L260.44,80.02 L260.67,79.92 L260.89,79.84 L261.12,79.75 L261.35,79.67 L261.57,79.58 L261.80,79.50 L262.03,79.41 L262.26,79.33 L262.48,79.24 L262.71,79.16 L262.94,79.08 L263.16,79.00 L263.39,78.92 L263.62,78.84 L263.84,78.76 L264.07,78.69 L264.30,78.62 L264.52,78.55 L264.75,78.48 L264.98,78.42 L265.21,78.36 L265.43,78.31 L265.66,78.26 L265.89,78.21 L266.11,78.17 L266.34,78.13 L266.57,78.08 L266.79,78.04 L267.02,78.00 L267.25,77.96 L267.47,77.92 L267.70,77.88 L267.93,77.84 L268.16,77.80 L268.38,77.77 L268.61,77.73 L268.84,77.70 L269.06,77.66 L269.29,77.63 L269.52,77.60 L269.74,77.57 L269.97,77.55 L270.20,77.53 L270.42,77.50 L270.65,77.49 L270.88,77.47 L271.10,77.46 L271.33,77.44 L271.56,77.44 L271.79,77.43 L272.01,77.43 L272.24,77.43 L272.47,77.43 L272.69,77.43 L272.92,77.44 L273.15,77.44 L273.37,77.45 L273.60,77.45 L273.83,77.46 L274.05,77.47 L274.28,77.48 L274.51,77.49 L274.74,77.50 L274.96,77.52 L275.19,77.53 L275.42,77.54 L275.64,77.56 L275.87,77.58 L276.10,77.60 L276.32,77.61 L276.55,77.64 L276.78,77.66 L277.00,77.68 L277.23,77.70 L277.46,77.73 L277.68,77.75 L277.91,77.78 L278.14,77.81 L278.37,77.84 L278.59,77.87 L278.82,77.90 L279.05,77.94 L279.27,77.99 L279.50,78.08 L279.73,78.19 L279.95,78.34 L280.18,78.51 L280.41,78.69 L280.63,78.89 L280.86,79.10 L281.09,79.32 L281.32,79.54 L281.54,79.75 L281.77,79.96 L282.00,80.17 L282.22,80.39 L282.45,80.61 L282.68,80.84 L282.90,81.08 L283.13,81.33 L283.36,81.58 L283.58,81.84 L283.81,82.12 L284.04,82.40 L284.26,82.68 L284.49,82.98 L284.72,83.29 L284.95,83.60 L285.17,83.93 L285.40,84.26 L285.63,84.61 L285.85,84.98 L286.08,85.36 L286.31,85.75 L286.53,86.16 L286.76,86.59 L286.99,87.03 L287.21,87.49 L287.44,87.96 L287.67,88.44 L287.90,88.94 L288.12,89.45 L288.35,89.97 L288.58,90.50 L288.80,91.05 L289.03,91.60 L289.26,92.17 L289.48,92.76 L289.71,93.36 L289.94,93.98 L290.16,94.61 L290.39,95.26 L290.62,95.93 L290.85,96.61" stroke="#0000ff" stroke-dasharray="11.6 2.8 5.8 2.8" stroke-dashoffset="19.97"/>
<path d="M290.85,96.61 L291.07,97.31 L291.30,98.02 L291.53,98.74 L291.75,99.48 L291.98,100.24 L292.21,101.01 L292.43,101.80 L292.66,102.60 L292.89,103.42 L293.11,104.25 L293.34,105.09 L293.57,105.95 L293.79,106.82 L294.02,107.71 L294.25,108.61 L294.48,109.53 L294.70,110.46 L294.93,111.40 L295.16,112.36 L295.38,113.35 L295.61,114.41 L295.84,115.52 L296.06,116.68 L296.29,117.88 L296.52,119.11 L296.74,120.36 L296.97,121.64 L297.20,122.93 L297.43,124.22 L297.65,125.51 L297.88,126.79 L298.11,128.05 L298.33,129.32 L298.56,130.62 L298.79,131.94 L299.01,133.28 L299.24,134.63 L299.47,135.99 L299.69,137.36 L299.92,138.72 L300.15,140.07 L300.37,141.41 L300.60,142.73 L300.83,144.03 L301.06,145.29 L301.28,146.53 L301.51,147.72 L301.74,148.87 L301.96,149.97 L302.19,151.04 L302.42,152.07 L302.64,153.09 L302.87,154.08 L303.10,155.08 L303.32,156.07 L303.55,157.07 L303.78,158.09 L304.01,159.12 L304.23,160.19 L304.46,161.29 L304.69,162.41 L304.91,163.54 L305.14,164.68 L305.37,165.83 L305.59,166.99 L305.82,168.15 L306.05,169.31 L306.27,170.45 L306.50,171.60 L306.73,172.74 L306.95,173.88 L307.18,175.04 L307.41,176.22 L307.64,177.43 L307.86,178.67 L308.09,179.99 L308.32,181.42 L308.54,182.90 L308.77,184.39 L309.00,185.85 L309.22,187.23 L309.45,188.48 L309.68,189.55 L309.90,190.52 L310.13,191.46 L310.36,192.37 L310.59,193.26 L310.81,194.11 L311.04,194.94 L311.27,195.73 L311.49,196.49 L311.72,197.22 L311.95,197.91 L312.17,198.56 L312.40,199.18 L312.63,199.76 L312.85,200.29 L313.08,200.79 L313.31,201.24 L313.54,201.65 L313.76,202.06 L313.99,202.47 L314.22,202.87 L314.44,203.27 L314.67,203.66 L314.90,204.04 L315.12,204.40 L315.35,204.75 L315.58,205.07 L315.80,205.38 L316.03,205.66 L316.26,205.92 L316.48,206.15 L316.71,206.34 L316.94,206.50 L317.17,206.63 L317.39,206.71 L317.62,206.76 L317.85,206.76 L318.07,206.74 L318.30,206.69 L318.53,206.63 L318.75,206.55 L318.98,206.44 L319.21,206.32 L319.43,206.18 L319.66,206.02 L319.89,205.85 L320.12,205.66 L320.34,205.46 L320.57,205.25 L320.80,205.02 L321.02,204.78 L321.25,204.53 L321.48,204.27 L321.70,204.00 L321.93,203.72 L322.16,203.44 L322.38,203.14 L322.61,202.85 L322.84,202.54 L323.06,202.23 L323.29,201.92 L323.52,201.61 L323.75,201.28 L323.97,200.90 L324.20,200.46 L324.43,199.97 L324.65,199.43 L324.88,198.85 L325.11,198.23 L325.33,197.58 L325.56,196.90 L325.79,196.20 L326.01,195.48 L326.24,194.76 L326.47,194.03 L326.70,193.30 L326.92,192.58 L327.15,191.87 L327.38,191.18 L327.60,190.51 L327.83,189.86 L328.06,189.25 L328.28,188.64 L328.51,188.05 L328.74,187.45 L328.96,186.86 L329.19,186.27 L329.42,185.68 L329.64,185.09 L329.87,184.50 L330.10,183.91 L330.33,183.32 L330.55,182.72 L330.78,182.12 L331.01,181.51 L331.23,180.89 L331.46,180.25 L331.69,179.60 L331.91,178.93 L332.14,178.25 L332.37,177.56 L332.59,176.87 L332.82,176.18 L333.05,175.49 L333.28,174.81 L333.50,174.15 L333.73,173.49 L333.96,172.85 L334.18,172.24 L334.41,171.65 L334.64,171.09 L334.86,170.56 L335.09,170.06 L335.32,169.59 L335.54,169.13 L335.77,168.68 L336.00,168.23 L336.23,167.79 L336.45,167.37 L336.68,166.96 L336.91,166.56 L337.13,166.18 L337.36,165.81 L337.59,165.46 L337.81,165.12 L338.04,164.81 L338.27,164.52 L338.49,164.24 L338.72,163.99 L338.95,163.75 L339.17,163.51 L339.40,163.27 L339.63,163.03 L339.86,162.79 L340.08,162.55 L340.31,162.32 L340.54,162.09 L340.76,161.86 L340.99,161.63 L341.22,161.41 L341.44,161.19 L341.67,160.98 L341.90,160.77 L342.12,160.57 L342.35,160.37 L342.58,160.18 L342.81,160.00 L343.03,159.83 L343.26,159.66 L343.49,159.50 L343.71,159.35 L343.94,159.21 L344.17,159.08 L344.39,158.97 L344.62,158.86 L344.85,158.76 L345.07,158.67 L345.30,158.60 L345.53,158.54 L345.75,158.49 L345.98,158.45 L346.21,158.43 L346.44,158.42 L346.66,158.43 L346.89,158.45 L347.12,158.48 L347.34,158.52 L347.57,158.58 L347.80,158.65 L348.02,158.72 L348.25,158.81 L348.48,158.91 L348.70,159.01 L348.93,159.13 L349.16,159.25 L349.39,159.38 L349.61,159.52 L349.84,159.67 L350.07,159.82 L350.29,159.98 L350.52,160.15 L350.75,160.32 L350.97,160.49 L351.20,160.67 L351.43,160.86 L351.65,161.05 L351.88,161.24 L352.11,161.43 L352.33,161.63 L352.56,161.82 L352.79,162.02 L353.02,162.22 L353.24,162.42 L353.47,162.62 L353.70,162.82 L353.92,163.02 L354.15,163.22 L354.38,163.42 L354.60,163.61 L354.83,163.80 L355.06,163.99 L355.28,164.18 L355.51,164.38 L355.74,164.59 L355.97,164.80 L356.19,165.03 L356.42,165.25 L356.65,165.49 L356.87,165.73 L357.10,165.97 L357.33,166.22 L357.55,166.47 L357.78,166.73 L358.01,166.98 L358.23,167.24 L358.46,167.50 L358.69,167.76 L358.92,168.02 L359.14,168.28 L359.37,168.54 L359.60,168.80 L359.82,169.06 L360.05,169.33 L360.28,169.61 L360.50,169.89 L360.73,170.18 L360.96,170.48 L361.18,170.78 L361.41,171.08 L361.64,171.38 L361.86,171.68 L362.09,171.98 L362.32,172.28 L362.55,172.57 L362.77,172.86 L363.00,173.14 L363.23,173.42 L363.45,173.69 L363.68,173.95 L363.91,174.20 L364.13,174.44 L364.36,174.66 L364.59,174.87 L364.81,175.08 L365.04,175.28 L365.27,175.49 L365.50,175.69 L365.72,175.90 L365.95,176.10 L366.18,176.30 L366.40,176.50 L366.63,176.70 L366.86,176.89 L367.08,177.08 L367.31,177.27 L367.54,177.46 L367.76,177.64 L367.99,177.82 L368.22,177.99 L368.44,178.16 L368.67,178.32 L368.90,178.48 L369.13,178.64 L369.35,178.78 L369.58,178.93 L369.81,179.06 L370.03,179.19 L370.26,179.31 L370.49,179.43 L370.71,179.53 L370.94,179.63 L371.17,179.72 L371.39,179.80 L371.62,179.87 L371.85,179.94 L372.08,179.99 L372.30,180.05 L372.53,180.11 L372.76,180.16 L372.98,180.22 L373.21,180.27 L373.44,180.32 L373.66,180.37 L373.89,180.42 L374.12,180.47 L374.34,180.52 L374.57,180.56 L374.80,180.60 L375.02,180.64 L375.25,180.68 L375.48,180.72 L375.71,180.75 L375.93,180.79 L376.16,180.82 L376.39,180.84 L376.61,180.87 L376.84,180.89 L377.07,180.91 L377.29,180.92 L377.52,180.93 L377.75,180.94 L377.97,180.95 L378.20,180.95 L378.43,180.95 L378.66,180.94 L378.88,180.93 L379.11,180.92 L379.34,180.90 L379.56,180.88 L379.79,180.86 L380.02,180.83 L380.24,180.80 L380.47,180.77 L380.70,180.73 L380.92,180.70 L381.15,180.65 L381.38,180.61 L381.61,180.57 L381.83,180.52 L382.06,180.47 L382.29,180.41 L382.51,180.36 L382.74,180.30 L382.97,180.24 L383.19,180.18 L383.42,180.12 L383.65,180.06 L383.87,179.99 L384.10,179.93 L384.33,179.86 L384.55,179.79 L384.78,179.72 L385.01,179.65 L385.24,179.58 L385.46,179.51 L385.69,179.43 L385.92,179.36 L386.14,179.29 L386.37,179.21 L386.60,179.14 L386.82,179.06 L387.05,178.97 L387.28,178.89 L387.50,178.79 L387.73,178.69 L387.96,178.59 L388.19,178.48 L388.41,178.36 L388.64,178.24 L388.87,178.11 L389.09,177.98 L389.32,177.85 L389.55,177.71 L389.77,177.56 L390.00,177.41 L390.23,177.26 L390.45,177.10 L390.68,176.93 L390.91,176.76 L391.13,176.58 L391.36,176.40 L391.59,176.22 L391.82,176.03 L392.04,175.83 L392.27,175.63 L392.50,175.42 L392.72,175.18 L392.95,174.92" stroke="#0000ff" stroke-dasharray="11.6 2.8 5.8 2.8" stroke-dashoffset="9.47"/>
<path d="M392.95,174.92 L393.18,174.63 L393.40,174.33 L393.63,174.01 L393.86,173.68 L394.08,173.33 L394.31,172.97 L394.54,172.60 L394.77,172.21 L394.99,171.83 L395.22,171.43 L395.45,171.04 L395.67,170.64 L395.90,170.24 L396.13,169.84 L396.35,169.44 L396.58,169.05 L396.81,168.66 L397.03,168.28 L397.26,167.89 L397.49,167.50 L397.71,167.11 L397.94,166.71 L398.17,166.31 L398.40,165.91 L398.62,165.49 L398.85,165.07 L399.08,164.64 L399.30,164.20 L399.53,163.74 L399.76,163.28 L399.98,162.80 L400.21,162.31 L400.44,161.80 L400.66,161.27 L400.89,160.73 L401.12,160.16 L401.35,159.54 L401.57,158.86 L401.80,158.14 L402.03,157.39 L402.25,156.61 L402.48,155.81 L402.71,154.99 L402.93,154.17 L403.16,153.35 L403.39,152.54 L403.61,151.75 L403.84,150.99 L404.07,150.25 L404.30,149.56 L404.52,148.91 L404.75,148.26 L404.98,147.64 L405.20,147.02 L405.43,146.42 L405.66,145.83 L405.88,145.24 L406.11,144.65 L406.34,144.07 L406.56,143.49 L406.79,142.90 L407.02,142.31 L407.24,141.72 L407.47,141.12 L407.70,140.52 L407.93,139.91 L408.15,139.31 L408.38,138.71 L408.61,138.11 L408.83,137.51 L409.06,136.91 L409.29,136.31 L409.51,135.72 L409.74,135.12 L409.97,134.52 L410.19,133.92 L410.42,133.32 L410.65,132.73 L410.88,132.13 L411.10,131.53 L411.33,130.94 L411.56,130.34 L411.78,129.74 L412.01,129.15 L412.24,128.56 L412.46,127.95 L412.69,127.32 L412.92,126.69 L413.14,126.05 L413.37,125.43 L413.60,124.83 L413.82,124.26 L414.05,123.72 L414.28,123.24 L414.51,122.79 L414.73,122.33 L414.96,121.88 L415.19,121.43 L415.41,120.98 L415.64,120.54 L415.87,120.10 L416.09,119.67 L416.32,119.25 L416.55,118.84 L416.77,118.44 L417.00,118.05 L417.23,117.68 L417.46,117.31 L417.68,116.97 L417.91,116.64 L418.14,116.33 L418.36,116.04 L418.59,115.77 L418.82,115.52 L419.04,115.29 L419.27,115.09 L419.50,114.91 L419.72,114.76 L419.95,114.64 L420.18,114.53 L420.40,114.42 L420.63,114.32 L420.86,114.22 L421.09,114.12 L421.31,114.03 L421.54,113.94 L421.77,113.85 L421.99,113.77 L422.22,113.69 L422.45,113.62 L422.67,113.55 L422.90,113.49 L423.13,113.43 L423.35,113.39 L423.58,113.34 L423.81,113.31 L424.04,113.28 L424.26,113.26 L424.49,113.25 L424.72,113.24 L424.94,113.25 L425.17,113.27 L425.40,113.29 L425.62,113.33 L425.85,113.38 L426.08,113.44 L426.30,113.50 L426.53,113.58 L426.76,113.66 L426.99,113.75 L427.21,113.86 L427.44,113.96 L427.67,114.08 L427.89,114.20 L428.12,114.33 L428.35,114.46 L428.57,114.61 L428.80,114.75 L429.03,114.90 L429.25,115.06 L429.48,115.22 L429.71,115.39 L429.93,115.56 L430.16,115.73 L430.39,115.90 L430.62,116.08 L430.84,116.26 L431.07,116.45 L431.30,116.63 L431.52,116.82 L431.75,117.01 L431.98,117.24 L432.20,117.50 L432.43,117.79 L432.66,118.11 L432.88,118.45 L433.11,118.82 L433.34,119.20 L433.57,119.60 L433.79,120.01 L434.02,120.43 L434.25,120.85 L434.47,121.27 L434.70,121.69 L434.93,122.11 L435.15,122.52 L435.38,122.92 L435.61,123.30 L435.83,123.66 L436.06,124.00 L436.29,124.33 L436.51,124.66 L436.74,124.99 L436.97,125.32 L437.20,125.65 L437.42,125.98 L437.65,126.31 L437.88,126.63 L438.10,126.95 L438.33,127.27 L438.56,127.58 L438.78,127.89 L439.01,128.19 L439.24,128.49 L439.46,128.78 L439.69,129.06 L439.92,129.34 L440.15,129.61 L440.37,129.86 L440.60,130.11 L440.83,130.35 L441.05,130.58 L441.28,130.80 L441.51,131.03 L441.73,131.25 L441.96,131.48 L442.19,131.70 L442.41,131.92 L442.64,132.14 L442.87,132.36 L443.09,132.57 L443.32,132.78 L443.55,132.99 L443.78,133.20 L444.00,133.40 L444.23,133.59 L444.46,133.78 L444.68,133.96 L444.91,134.14 L445.14,134.31 L445.36,134.48 L445.59,134.64 L445.82,134.79 L446.04,134.93 L446.27,135.06 L446.50,135.18 L446.73,135.29 L446.95,135.40 L447.18,135.49 L447.41,135.57 L447.63,135.64 L447.86,135.71 L448.09,135.77 L448.31,135.83 L448.54,135.90 L448.77,135.95 L448.99,136.01 L449.22,136.07 L449.45,136.12 L449.68,136.18 L449.90,136.22 L450.13,136.27 L450.36,136.31 L450.58,136.35 L450.81,136.39 L451.04,136.42 L451.26,136.45 L451.49,136.48 L451.72,136.50 L451.94,136.51 L452.17,136.52 L452.40,136.53 L452.62,136.53 L452.85,136.52 L453.08,136.51 L453.31,136.49 L453.53,136.47 L453.76,136.45 L453.99,136.42 L454.21,136.38 L454.44,136.34 L454.67,136.30 L454.89,136.25 L455.12,136.20 L455.35,136.15 L455.57,136.09 L455.80,136.03 L456.03,135.97 L456.26,135.91 L456.48,135.84 L456.71,135.77 L456.94,135.71 L457.16,135.64 L457.39,135.57 L457.62,135.49 L457.84,135.42 L458.07,135.35 L458.30,135.28 L458.52,135.21 L458.75,135.14 L458.98,135.06 L459.20,134.99 L459.43,134.90 L459.66,134.82 L459.89,134.73 L460.11,134.63 L460.34,134.53 L460.57,134.43 L460.79,134.32 L461.02,134.21 L461.25,134.10 L461.47,133.98 L461.70,133.86 L461.93,133.74 L462.15,133.62 L462.38,133.49 L462.61,133.36 L462.84,133.23 L463.06,133.10 L463.29,132.96 L463.52,132.83 L463.74,132.69 L463.97,132.55 L464.20,132.41 L464.42,132.27 L464.65,132.13 L464.88,131.99 L465.10,131.85 L465.33,131.70 L465.56,131.53 L465.78,131.36 L466.01,131.18 L466.24,130.99 L466.47,130.81 L466.69,130.62 L466.92,130.44 L467.15,130.27 L467.37,130.11 L467.60,129.96 L467.83,129.82 L468.05,129.70 L468.28,129.58 L468.51,129.45 L468.73,129.34 L468.96,129.22 L469.19,129.10 L469.42,128.99 L469.64,128.87 L469.87,128.76 L470.10,128.65 L470.32,128.55 L470.55,128.44 L470.78,128.34 L471.00,128.24 L471.23,128.14 L471.46,128.04 L471.68,127.94 L471.91,127.85 L472.14,127.76 L472.37,127.67 L472.59,127.58 L472.82,127.49 L473.05,127.41 L473.27,127.33 L473.50,127.25 L473.73,127.17 L473.95,127.10 L474.18,127.03 L474.41,126.96 L474.63,126.89 L474.86,126.82 L475.09,126.76 L475.31,126.70 L475.54,126.64 L475.77,126.58 L476.00,126.53 L476.22,126.48 L476.45,126.43 L476.68,126.37 L476.90,126.32 L477.13,126.27 L477.36,126.21 L477.58,126.16 L477.81,126.11 L478.04,126.06 L478.26,126.01 L478.49,125.96 L478.72,125.92 L478.95,125.87 L479.17,125.83 L479.40,125.79 L479.63,125.75 L479.85,125.71 L480.08,125.68 L480.31,125.65 L480.53,125.62 L480.76,125.59 L480.99,125.57 L481.21,125.55 L481.44,125.54 L481.67,125.53 L481.89,125.52 L482.12,125.52 L482.35,125.52 L482.58,125.52 L482.80,125.53 L483.03,125.53 L483.26,125.54 L483.48,125.55 L483.71,125.56 L483.94,125.58 L484.16,125.59 L484.39,125.60 L484.62,125.62 L484.84,125.64 L485.07,125.66 L485.30,125.68 L485.53,125.70 L485.75,125.73 L485.98,125.75 L486.21,125.77 L486.43,125.80 L486.66,125.83 L486.89,125.85 L487.11,125.88 L487.34,125.91 L487.57,125.94 L487.79,125.97 L488.02,126.00 L488.25,126.03 L488.47,126.07 L488.70,126.10 L488.93,126.13 L489.16,126.16 L489.38,126.20 L489.61,126.23 L489.84,126.26 L490.06,126.30 L490.29,126.33 L490.52,126.37 L490.74,126.40 L490.97,126.43 L491.20,126.47 L491.42,126.50 L491.65,126.53 L491.88,126.57 L492.11,126.60 L492.33,126.64 L492.56,126.68 L492.79,126.72 L493.01,126.77 L493.24,126.82 L493.47,126.86 L493.69,126.91 L493.92,126.97 L494.15,127.02 L494.37,127.07 L494.60,127.13 L494.83,127.19 L495.06,127.24 L495.28,127.30 L495.51,127.36 L495.74,127.42 L495.96,127.48 L496.19,127.54 L496.42,127.60 L496.64,127.66 L496.87,127.72 L497.10,127.78 L497.32,127.85 L497.55,127.91 L497.78,127.96 L498.00,128.02 L498.23,128.08 L498.46,128.14 L498.69,128.19 L498.91,128.25 L499.14,128.30 L499.37,128.36 L499.59,128.41 L499.82,128.46 L500.05,128.50 L500.27,128.55 L500.50,128.59 L500.73,128.64 L500.95,128.68 L501.18,128.71 L501.41,128.75 L501.64,128.78 L501.86,128.81 L502.09,128.84 L502.32,128.87 L502.54,128.89 L502.77,128.92 L503.00,128.95 L503.22,128.98 L503.45,129.01 L503.68,129.04 L503.90,129.07 L504.13,129.09 L504.36,129.12 L504.58,129.15 L504.81,129.17 L505.04,129.20 L505.27,129.23 L505.49,129.25 L505.72,129.28 L505.95,129.30 L506.17,129.32 L506.40,129.35 L506.63,129.37 L506.85,129.39 L507.08,129.41 L507.31,129.43 L507.53,129.45 L507.76,129.46 L507.99,129.48 L508.22,129.49 L508.44,129.51 L508.67,129.52 L508.90,129.53 L509.12,129.54 L509.35,129.55 L509.58,129.56 L509.80,129.56 L510.03,129.57 L510.26,129.57 L510.48,129.57 L510.71,129.57 L510.94,129.57 L511.16,129.56 L511.39,129.56 L511.62,129.55 L511.85,129.55 L512.07,129.54 L512.30,129.53 L512.53,129.52 L512.75,129.51 L512.98,129.50 L513.21,129.49 L513.43,129.48 L513.66,129.47 L513.89,129.45 L514.11,129.44 L514.34,129.43 L514.57,129.41 L514.80,129.40 L515.02,129.38 L515.25,129.36 L515.48,129.35 L515.70,129.33 L515.93,129.31 L516.16,129.30 L516.38,129.28 L516.61,129.26 L516.84,129.24 L517.06,129.23 L517.29,129.21 L517.52,129.19 L517.75,129.17 L517.97,129.15 L518.20,129.14 L518.43,129.12 L518.65,129.10 L518.88,129.09 L519.11,129.07 L519.33,129.05 L519.56,129.04 L519.79,129.02 L520.01,129.00 L520.24,128.98 L520.47,128.96 L520.69,128.94 L520.92,128.92 L521.15,128.90 L521.38,128.88 L521.60,128.86 L521.83,128.83 L522.06,128.81 L522.28,128.79 L522.51,128.76 L522.74,128.74 L522.96,128.72 L523.19,128.69 L523.42,128.67 L523.64,128.65 L523.87,128.62 L524.10,128.60 L524.33,128.58 L524.55,128.55 L524.78,128.53 L525.01,128.51 L525.23,128.49 L525.46,128.47 L525.69,128.45 L525.91,128.43 L526.14,128.41 L526.37,128.39 L526.59,128.38 L526.82,128.36 L527.05,128.35 L527.27,128.33 L527.50,128.32 L527.73,128.31 L527.96,128.30 L528.18,128.29 L528.41,128.28 L528.64,128.27 L528.86,128.26 L529.09,128.25 L529.32,128.24 L529.54,128.23 L529.77,128.22 L530.00,128.21 L530.22,128.20 L530.45,128.19 L530.68,128.18 L530.91,128.17 L531.13,128.16 L531.36,128.15 L531.59,128.14 L531.81,128.13 L532.04,128.12 L532.27,128.12 L532.49,128.11 L532.72,128.10 L532.95,128.10 L533.17,128.09 L533.40,128.08 L533.63,128.08 L533.85,128.07 L534.08,128.07 L534.31,128.06 L534.54,128.06 L534.76,128.06 L534.99,128.05 L535.22,128.05 L535.44,128.05 L535.67,128.05 L535.90,128.05 L536.12,128.05 L536.35,128.05 L536.58,128.05 L536.80,128.05 L537.03,128.05 L537.26,128.05 L537.49,128.05 L537.71,128.05 L537.94,128.05 L538.17,128.05 L538.39,128.05 L538.62,128.05 L538.85,128.05 L539.07,128.05 L539.30,128.05 L539.53,128.05 L539.75,128.05 L539.98,128.05 L540.21,128.05 L540.44,128.05 L540.66,128.05 L540.89,128.05 L541.12,128.05 L541.34,128.05 L541.57,128.05 L541.80,128.05 L542.02,128.05 L542.25,128.05 L542.48,128.05 L542.70,128.05 L542.93,128.05 L543.16,128.05 L543.38,128.05 L543.40,128.05" stroke="#0000ff" stroke-dasharray="11.6 2.8 5.8 2.8" stroke-dashoffset="13.84"/>
</g>
<path d="M52.6,26.9H543.4V229.6H52.6ZM109.33,229.6v-5M109.33,26.9v5M166.05,229.6v-5M166.05,26.9v5M222.78,229.6v-5M222.78,26.9v5M279.50,229.6v-5M279.50,26.9v5M336.23,229.6v-5M336.23,26.9v5M392.95,229.6v-5M392.95,26.9v5M449.68,229.6v-5M449.68,26.9v5M506.40,229.6v-5M506.40,26.9v5M52.6,178.67h5M543.4,178.67h-5M52.6,128.05h5M543.4,128.05h-5M52.6,77.43h5M543.4,77.43h-5" stroke="#262626" stroke-width="1" fill="none"/>
<g font-family="Liberation Serif, serif" font-size="14.8" fill="#262626" stroke="#262626" stroke-width="0.25">
<text x="52.6" y="247.7" text-anchor="middle">0</text>
<text x="109.3" y="247.7" text-anchor="middle">5</text>
<text x="166.1" y="247.7" text-anchor="middle">10</text>
<text x="222.8" y="247.7" text-anchor="middle">15</text>
<text x="279.5" y="247.7" text-anchor="middle">20</text>
<text x="336.2" y="247.7" text-anchor="middle">25</text>
<text x="393.0" y="247.7" text-anchor="middle">30</text>
<text x="449.7" y="247.7" text-anchor="middle">35</text>
<text x="506.4" y="247.7" text-anchor="middle">40</text>
<text x="47" y="233.6" text-anchor="end">4</text>
<text transform="translate(28.8,233.89) scale(1.2,1)" stroke-width="0.2">−</text>
<text x="47" y="183.0" text-anchor="end">2</text>
<text transform="translate(28.8,183.27) scale(1.2,1)" stroke-width="0.2">−</text>
<text x="47" y="132.4" text-anchor="end">0</text>
<text x="47" y="81.7" text-anchor="end">2</text>
<text x="47" y="31.1" text-anchor="end">4</text>
</g>
<g font-family="Liberation Sans, Arial, sans-serif" fill="#000" stroke="#000" stroke-width="0.3">
<text x="297.2" y="18.6" text-anchor="middle" font-size="17.45">Steering control inputs</text>
<text x="297.3" y="269.5" text-anchor="middle" font-size="15.8" fill="#262626">t [sec]</text>
<text transform="translate(19.5,128.45) rotate(-90)" text-anchor="middle" font-size="15.85" fill="#262626">Steering input [deg]</text>
</g>
<rect x="402.6" y="26.9" width="140.79999999999995" height="78.9" fill="#fff" stroke="#262626" stroke-width="1"/>
<path d="M407.2,38.3H455.7" stroke="#ff0000" stroke-width="3" fill="none"/>
<text x="459" y="43.7" font-family="Liberation Sans, Arial, sans-serif" font-size="13.7" fill="#000" stroke="#000" stroke-width="0.3">AFC</text>
<path d="M407.2,57.0H455.7" stroke="#ff00ff" stroke-width="3" stroke-dasharray="12 11" fill="none"/>
<text x="459" y="62.4" font-family="Liberation Sans, Arial, sans-serif" font-size="13.7" fill="#000" stroke="#000" stroke-width="0.3">SMC</text>
<path d="M407.2,75.5H455.7" stroke="#000" stroke-width="3" stroke-dasharray="3 2.7" fill="none"/>
<text x="459" y="80.9" font-family="Liberation Sans, Arial, sans-serif" font-size="13.7" fill="#000" stroke="#000" stroke-width="0.3">SMC w/ AFC</text>
<path d="M407.2,94.4H455.7" stroke="#0000ff" stroke-width="3" stroke-dasharray="11.6 2.8 5.8 2.8" fill="none"/>
<text x="459" y="99.8" font-family="Liberation Sans, Arial, sans-serif" font-size="13.7" fill="#000" stroke="#000" stroke-width="0.3">PID</text>
</svg>
</body></html>
